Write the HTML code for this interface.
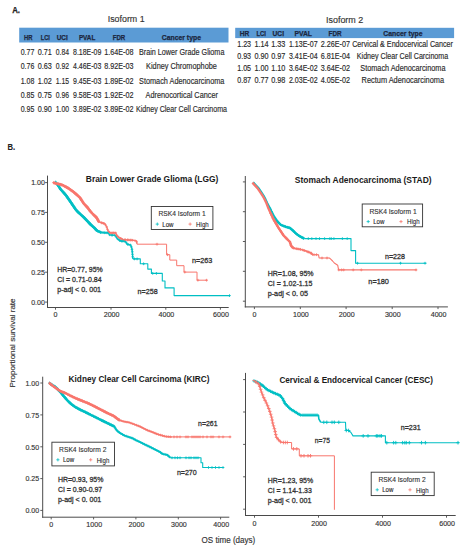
<!DOCTYPE html>
<html><head><meta charset="utf-8"><style>
html,body{margin:0;padding:0;background:#fff;}
svg{display:block;font-family:"Liberation Sans",sans-serif;}
</style></head><body>
<svg width="466" height="550" viewBox="0 0 466 550">
<rect width="466" height="550" fill="#fff"/>
<text x="12.20" y="12.90" font-size="8.4" font-weight="bold" fill="#222" stroke="#222" stroke-width="0.25" textLength="7.80" lengthAdjust="spacingAndGlyphs">A.</text>
<text x="107.70" y="22.20" font-size="9.2" fill="#333" stroke="#333" stroke-width="0.15" textLength="36.90" lengthAdjust="spacingAndGlyphs">Isoform 1</text>
<text x="326.00" y="22.50" font-size="9.2" fill="#333" stroke="#333" stroke-width="0.15" textLength="37.20" lengthAdjust="spacingAndGlyphs">Isoform 2</text>
<rect x="19.2" y="27.7" width="209.30" height="14.80" fill="#5B9BD5"/>
<rect x="235.2" y="27.8" width="218.90" height="10.30" fill="#5B9BD5"/>
<text x="24.00" y="39.60" font-size="7.6" font-weight="bold" fill="#1c2740" stroke="#1c2740" stroke-width="0.25" textLength="8.50" lengthAdjust="spacingAndGlyphs">HR</text>
<text x="40.70" y="39.60" font-size="7.6" font-weight="bold" fill="#1c2740" stroke="#1c2740" stroke-width="0.25" textLength="9.10" lengthAdjust="spacingAndGlyphs">LCI</text>
<text x="56.70" y="39.60" font-size="7.6" font-weight="bold" fill="#1c2740" stroke="#1c2740" stroke-width="0.25" textLength="11.10" lengthAdjust="spacingAndGlyphs">UCI</text>
<text x="78.90" y="39.60" font-size="7.6" font-weight="bold" fill="#1c2740" stroke="#1c2740" stroke-width="0.25" textLength="16.40" lengthAdjust="spacingAndGlyphs">PVAL</text>
<text x="112.70" y="39.60" font-size="7.6" font-weight="bold" fill="#1c2740" stroke="#1c2740" stroke-width="0.25" textLength="12.60" lengthAdjust="spacingAndGlyphs">FDR</text>
<text x="161.70" y="39.60" font-size="7.6" font-weight="bold" fill="#1c2740" stroke="#1c2740" stroke-width="0.25" textLength="39.30" lengthAdjust="spacingAndGlyphs">Cancer type</text>
<text x="20.70" y="54.90" font-size="8.2" fill="#2a2a2a" stroke="#2a2a2a" stroke-width="0.15" textLength="13.60" lengthAdjust="spacingAndGlyphs">0.77</text>
<text x="37.70" y="54.90" font-size="8.2" fill="#2a2a2a" stroke="#2a2a2a" stroke-width="0.15" textLength="14.10" lengthAdjust="spacingAndGlyphs">0.71</text>
<text x="55.70" y="54.90" font-size="8.2" fill="#2a2a2a" stroke="#2a2a2a" stroke-width="0.15" textLength="13.30" lengthAdjust="spacingAndGlyphs">0.84</text>
<text x="73.00" y="54.90" font-size="8.2" fill="#2a2a2a" stroke="#2a2a2a" stroke-width="0.15" textLength="28.30" lengthAdjust="spacingAndGlyphs">8.18E-09</text>
<text x="104.30" y="54.90" font-size="8.2" fill="#2a2a2a" stroke="#2a2a2a" stroke-width="0.15" textLength="29.20" lengthAdjust="spacingAndGlyphs">1.64E-08</text>
<text x="139.00" y="54.90" font-size="8.2" fill="#2a2a2a" stroke="#2a2a2a" stroke-width="0.15" textLength="85.40" lengthAdjust="spacingAndGlyphs">Brain Lower Grade Glioma</text>
<text x="20.70" y="69.30" font-size="8.2" fill="#2a2a2a" stroke="#2a2a2a" stroke-width="0.15" textLength="13.60" lengthAdjust="spacingAndGlyphs">0.76</text>
<text x="37.70" y="69.30" font-size="8.2" fill="#2a2a2a" stroke="#2a2a2a" stroke-width="0.15" textLength="14.10" lengthAdjust="spacingAndGlyphs">0.63</text>
<text x="55.70" y="69.30" font-size="8.2" fill="#2a2a2a" stroke="#2a2a2a" stroke-width="0.15" textLength="13.30" lengthAdjust="spacingAndGlyphs">0.92</text>
<text x="73.00" y="69.30" font-size="8.2" fill="#2a2a2a" stroke="#2a2a2a" stroke-width="0.15" textLength="28.30" lengthAdjust="spacingAndGlyphs">4.46E-03</text>
<text x="104.30" y="69.30" font-size="8.2" fill="#2a2a2a" stroke="#2a2a2a" stroke-width="0.15" textLength="29.20" lengthAdjust="spacingAndGlyphs">8.92E-03</text>
<text x="146.10" y="69.30" font-size="8.2" fill="#2a2a2a" stroke="#2a2a2a" stroke-width="0.15" textLength="70.80" lengthAdjust="spacingAndGlyphs">Kidney Chromophobe</text>
<text x="20.70" y="83.60" font-size="8.2" fill="#2a2a2a" stroke="#2a2a2a" stroke-width="0.15" textLength="13.60" lengthAdjust="spacingAndGlyphs">1.08</text>
<text x="37.70" y="83.60" font-size="8.2" fill="#2a2a2a" stroke="#2a2a2a" stroke-width="0.15" textLength="14.10" lengthAdjust="spacingAndGlyphs">1.02</text>
<text x="55.70" y="83.60" font-size="8.2" fill="#2a2a2a" stroke="#2a2a2a" stroke-width="0.15" textLength="13.30" lengthAdjust="spacingAndGlyphs">1.15</text>
<text x="73.00" y="83.60" font-size="8.2" fill="#2a2a2a" stroke="#2a2a2a" stroke-width="0.15" textLength="28.30" lengthAdjust="spacingAndGlyphs">9.45E-03</text>
<text x="104.30" y="83.60" font-size="8.2" fill="#2a2a2a" stroke="#2a2a2a" stroke-width="0.15" textLength="29.20" lengthAdjust="spacingAndGlyphs">1.89E-02</text>
<text x="139.00" y="83.60" font-size="8.2" fill="#2a2a2a" stroke="#2a2a2a" stroke-width="0.15" textLength="85.40" lengthAdjust="spacingAndGlyphs">Stomach Adenocarcinoma</text>
<text x="20.70" y="98.00" font-size="8.2" fill="#2a2a2a" stroke="#2a2a2a" stroke-width="0.15" textLength="13.60" lengthAdjust="spacingAndGlyphs">0.85</text>
<text x="37.70" y="98.00" font-size="8.2" fill="#2a2a2a" stroke="#2a2a2a" stroke-width="0.15" textLength="14.10" lengthAdjust="spacingAndGlyphs">0.75</text>
<text x="55.70" y="98.00" font-size="8.2" fill="#2a2a2a" stroke="#2a2a2a" stroke-width="0.15" textLength="13.30" lengthAdjust="spacingAndGlyphs">0.96</text>
<text x="73.00" y="98.00" font-size="8.2" fill="#2a2a2a" stroke="#2a2a2a" stroke-width="0.15" textLength="28.30" lengthAdjust="spacingAndGlyphs">9.58E-03</text>
<text x="104.30" y="98.00" font-size="8.2" fill="#2a2a2a" stroke="#2a2a2a" stroke-width="0.15" textLength="29.20" lengthAdjust="spacingAndGlyphs">1.92E-02</text>
<text x="145.50" y="98.00" font-size="8.2" fill="#2a2a2a" stroke="#2a2a2a" stroke-width="0.15" textLength="72.50" lengthAdjust="spacingAndGlyphs">Adrenocortical Cancer</text>
<text x="20.70" y="112.30" font-size="8.2" fill="#2a2a2a" stroke="#2a2a2a" stroke-width="0.15" textLength="13.60" lengthAdjust="spacingAndGlyphs">0.95</text>
<text x="37.70" y="112.30" font-size="8.2" fill="#2a2a2a" stroke="#2a2a2a" stroke-width="0.15" textLength="14.10" lengthAdjust="spacingAndGlyphs">0.90</text>
<text x="55.70" y="112.30" font-size="8.2" fill="#2a2a2a" stroke="#2a2a2a" stroke-width="0.15" textLength="13.30" lengthAdjust="spacingAndGlyphs">1.00</text>
<text x="73.00" y="112.30" font-size="8.2" fill="#2a2a2a" stroke="#2a2a2a" stroke-width="0.15" textLength="28.30" lengthAdjust="spacingAndGlyphs">3.89E-02</text>
<text x="104.30" y="112.30" font-size="8.2" fill="#2a2a2a" stroke="#2a2a2a" stroke-width="0.15" textLength="29.20" lengthAdjust="spacingAndGlyphs">3.89E-02</text>
<text x="136.00" y="112.30" font-size="8.2" fill="#2a2a2a" stroke="#2a2a2a" stroke-width="0.15" textLength="91.00" lengthAdjust="spacingAndGlyphs">Kidney Clear Cell Carcinoma</text>
<text x="239.80" y="36.00" font-size="7.6" font-weight="bold" fill="#1c2740" stroke="#1c2740" stroke-width="0.25" textLength="9.50" lengthAdjust="spacingAndGlyphs">HR</text>
<text x="256.50" y="36.00" font-size="7.6" font-weight="bold" fill="#1c2740" stroke="#1c2740" stroke-width="0.25" textLength="9.50" lengthAdjust="spacingAndGlyphs">LCI</text>
<text x="272.50" y="36.00" font-size="7.6" font-weight="bold" fill="#1c2740" stroke="#1c2740" stroke-width="0.25" textLength="11.50" lengthAdjust="spacingAndGlyphs">UCI</text>
<text x="294.40" y="36.00" font-size="7.6" font-weight="bold" fill="#1c2740" stroke="#1c2740" stroke-width="0.25" textLength="17.60" lengthAdjust="spacingAndGlyphs">PVAL</text>
<text x="328.50" y="36.00" font-size="7.6" font-weight="bold" fill="#1c2740" stroke="#1c2740" stroke-width="0.25" textLength="13.10" lengthAdjust="spacingAndGlyphs">FDR</text>
<text x="383.30" y="36.00" font-size="7.6" font-weight="bold" fill="#1c2740" stroke="#1c2740" stroke-width="0.25" textLength="39.20" lengthAdjust="spacingAndGlyphs">Cancer type</text>
<text x="237.20" y="46.60" font-size="8.2" fill="#2a2a2a" stroke="#2a2a2a" stroke-width="0.15" textLength="13.90" lengthAdjust="spacingAndGlyphs">1.23</text>
<text x="254.50" y="46.60" font-size="8.2" fill="#2a2a2a" stroke="#2a2a2a" stroke-width="0.15" textLength="14.10" lengthAdjust="spacingAndGlyphs">1.14</text>
<text x="271.20" y="46.60" font-size="8.2" fill="#2a2a2a" stroke="#2a2a2a" stroke-width="0.15" textLength="14.20" lengthAdjust="spacingAndGlyphs">1.33</text>
<text x="288.90" y="46.60" font-size="8.2" fill="#2a2a2a" stroke="#2a2a2a" stroke-width="0.15" textLength="28.70" lengthAdjust="spacingAndGlyphs">1.13E-07</text>
<text x="320.70" y="46.60" font-size="8.2" fill="#2a2a2a" stroke="#2a2a2a" stroke-width="0.15" textLength="29.20" lengthAdjust="spacingAndGlyphs">2.26E-07</text>
<text x="352.20" y="46.60" font-size="8.2" fill="#2a2a2a" stroke="#2a2a2a" stroke-width="0.15" textLength="100.80" lengthAdjust="spacingAndGlyphs">Cervical &amp; Endocervical Cancer</text>
<text x="237.20" y="58.70" font-size="8.2" fill="#2a2a2a" stroke="#2a2a2a" stroke-width="0.15" textLength="13.90" lengthAdjust="spacingAndGlyphs">0.93</text>
<text x="254.50" y="58.70" font-size="8.2" fill="#2a2a2a" stroke="#2a2a2a" stroke-width="0.15" textLength="14.10" lengthAdjust="spacingAndGlyphs">0.90</text>
<text x="271.20" y="58.70" font-size="8.2" fill="#2a2a2a" stroke="#2a2a2a" stroke-width="0.15" textLength="14.20" lengthAdjust="spacingAndGlyphs">0.97</text>
<text x="288.90" y="58.70" font-size="8.2" fill="#2a2a2a" stroke="#2a2a2a" stroke-width="0.15" textLength="28.70" lengthAdjust="spacingAndGlyphs">3.41E-04</text>
<text x="320.70" y="58.70" font-size="8.2" fill="#2a2a2a" stroke="#2a2a2a" stroke-width="0.15" textLength="29.20" lengthAdjust="spacingAndGlyphs">6.81E-04</text>
<text x="356.80" y="58.70" font-size="8.2" fill="#2a2a2a" stroke="#2a2a2a" stroke-width="0.15" textLength="91.40" lengthAdjust="spacingAndGlyphs">Kidney Clear Cell Carcinoma</text>
<text x="237.20" y="70.80" font-size="8.2" fill="#2a2a2a" stroke="#2a2a2a" stroke-width="0.15" textLength="13.90" lengthAdjust="spacingAndGlyphs">1.05</text>
<text x="254.50" y="70.80" font-size="8.2" fill="#2a2a2a" stroke="#2a2a2a" stroke-width="0.15" textLength="14.10" lengthAdjust="spacingAndGlyphs">1.00</text>
<text x="271.20" y="70.80" font-size="8.2" fill="#2a2a2a" stroke="#2a2a2a" stroke-width="0.15" textLength="14.20" lengthAdjust="spacingAndGlyphs">1.10</text>
<text x="288.90" y="70.80" font-size="8.2" fill="#2a2a2a" stroke="#2a2a2a" stroke-width="0.15" textLength="28.70" lengthAdjust="spacingAndGlyphs">3.64E-02</text>
<text x="320.70" y="70.80" font-size="8.2" fill="#2a2a2a" stroke="#2a2a2a" stroke-width="0.15" textLength="29.20" lengthAdjust="spacingAndGlyphs">3.64E-02</text>
<text x="360.30" y="70.80" font-size="8.2" fill="#2a2a2a" stroke="#2a2a2a" stroke-width="0.15" textLength="85.20" lengthAdjust="spacingAndGlyphs">Stomach Adenocarcinoma</text>
<text x="237.20" y="82.80" font-size="8.2" fill="#2a2a2a" stroke="#2a2a2a" stroke-width="0.15" textLength="13.90" lengthAdjust="spacingAndGlyphs">0.87</text>
<text x="254.50" y="82.80" font-size="8.2" fill="#2a2a2a" stroke="#2a2a2a" stroke-width="0.15" textLength="14.10" lengthAdjust="spacingAndGlyphs">0.77</text>
<text x="271.20" y="82.80" font-size="8.2" fill="#2a2a2a" stroke="#2a2a2a" stroke-width="0.15" textLength="14.20" lengthAdjust="spacingAndGlyphs">0.98</text>
<text x="288.90" y="82.80" font-size="8.2" fill="#2a2a2a" stroke="#2a2a2a" stroke-width="0.15" textLength="28.70" lengthAdjust="spacingAndGlyphs">2.03E-02</text>
<text x="320.70" y="82.80" font-size="8.2" fill="#2a2a2a" stroke="#2a2a2a" stroke-width="0.15" textLength="29.20" lengthAdjust="spacingAndGlyphs">4.05E-02</text>
<text x="361.60" y="82.80" font-size="8.2" fill="#2a2a2a" stroke="#2a2a2a" stroke-width="0.15" textLength="82.50" lengthAdjust="spacingAndGlyphs">Rectum Adenocarcinoma</text>
<text x="7.50" y="150.10" font-size="8.4" font-weight="bold" fill="#222" stroke="#222" stroke-width="0.1" textLength="7.70" lengthAdjust="spacingAndGlyphs">B.</text>
<line x1="47.5" y1="175.6" x2="47.5" y2="308.0" stroke="#4a4a4a" stroke-width="1.0"/>
<line x1="47.0" y1="307.5" x2="228.7" y2="307.5" stroke="#4a4a4a" stroke-width="1.0"/>
<line x1="45.1" y1="182.6" x2="47.5" y2="182.6" stroke="#4a4a4a" stroke-width="0.9"/>
<text x="31.20" y="185.30" font-size="7.7" fill="#333" stroke="#333" stroke-width="0.15" textLength="13.70" lengthAdjust="spacingAndGlyphs">1.00</text>
<line x1="45.1" y1="212.4" x2="47.5" y2="212.4" stroke="#4a4a4a" stroke-width="0.9"/>
<text x="31.20" y="215.10" font-size="7.7" fill="#333" stroke="#333" stroke-width="0.15" textLength="13.70" lengthAdjust="spacingAndGlyphs">0.75</text>
<line x1="45.1" y1="242.3" x2="47.5" y2="242.3" stroke="#4a4a4a" stroke-width="0.9"/>
<text x="31.20" y="245.00" font-size="7.7" fill="#333" stroke="#333" stroke-width="0.15" textLength="13.70" lengthAdjust="spacingAndGlyphs">0.50</text>
<line x1="45.1" y1="272.2" x2="47.5" y2="272.2" stroke="#4a4a4a" stroke-width="0.9"/>
<text x="31.20" y="274.90" font-size="7.7" fill="#333" stroke="#333" stroke-width="0.15" textLength="13.70" lengthAdjust="spacingAndGlyphs">0.25</text>
<line x1="45.1" y1="302.1" x2="47.5" y2="302.1" stroke="#4a4a4a" stroke-width="0.9"/>
<text x="31.20" y="304.80" font-size="7.7" fill="#333" stroke="#333" stroke-width="0.15" textLength="13.70" lengthAdjust="spacingAndGlyphs">0.00</text>
<line x1="55.5" y1="307.5" x2="55.5" y2="309.7" stroke="#4a4a4a" stroke-width="0.9"/>
<text x="53.52" y="316.70" font-size="7.7" fill="#333" stroke="#333" stroke-width="0.15" textLength="3.95" lengthAdjust="spacingAndGlyphs">0</text>
<line x1="111.0" y1="307.5" x2="111.0" y2="309.7" stroke="#4a4a4a" stroke-width="0.9"/>
<text x="103.70" y="316.70" font-size="7.7" fill="#333" stroke="#333" stroke-width="0.15" textLength="15.80" lengthAdjust="spacingAndGlyphs">2000</text>
<line x1="165.8" y1="307.5" x2="165.8" y2="309.7" stroke="#4a4a4a" stroke-width="0.9"/>
<text x="158.50" y="316.70" font-size="7.7" fill="#333" stroke="#333" stroke-width="0.15" textLength="15.80" lengthAdjust="spacingAndGlyphs">4000</text>
<line x1="220.4" y1="307.5" x2="220.4" y2="309.7" stroke="#4a4a4a" stroke-width="0.9"/>
<text x="213.10" y="316.70" font-size="7.7" fill="#333" stroke="#333" stroke-width="0.15" textLength="15.80" lengthAdjust="spacingAndGlyphs">6000</text>
<text x="85.80" y="181.80" font-size="8.4" font-weight="bold" fill="#1a1a1a" textLength="132.60" lengthAdjust="spacingAndGlyphs">Brain Lower Grade Glioma (LGG)</text>
<polyline points="55.60,182.20 58.50,186.00 60.50,189.20 65.60,194.80 69.80,200.80 73.50,206.30 76.20,210.20 78.80,212.80 84.00,217.50 90.60,224.50 94.50,228.00 96.90,230.60 100.80,232.40" fill="none" stroke="#00BFC4" stroke-width="2.6" stroke-linejoin="round"/>
<path d="M54.10 182.20H57.10M55.60 180.70V183.70" stroke="#00BFC4" stroke-width="0.9"/>
<path d="M55.13 183.55H58.13M56.63 182.05V185.05" stroke="#00BFC4" stroke-width="0.9"/>
<path d="M56.16 184.90H59.16M57.66 183.40V186.40" stroke="#00BFC4" stroke-width="0.9"/>
<path d="M57.17 186.27H60.17M58.67 184.77V187.77" stroke="#00BFC4" stroke-width="0.9"/>
<path d="M58.07 187.71H61.07M59.57 186.21V189.21" stroke="#00BFC4" stroke-width="0.9"/>
<path d="M58.97 189.15H61.97M60.47 187.65V190.65" stroke="#00BFC4" stroke-width="0.9"/>
<path d="M60.11 190.42H63.11M61.61 188.92V191.92" stroke="#00BFC4" stroke-width="0.9"/>
<path d="M61.25 191.67H64.25M62.75 190.17V193.17" stroke="#00BFC4" stroke-width="0.9"/>
<path d="M62.40 192.93H65.40M63.90 191.43V194.43" stroke="#00BFC4" stroke-width="0.9"/>
<path d="M63.54 194.19H66.54M65.04 192.69V195.69" stroke="#00BFC4" stroke-width="0.9"/>
<path d="M64.60 195.51H67.60M66.10 194.01V197.01" stroke="#00BFC4" stroke-width="0.9"/>
<path d="M65.57 196.91H68.57M67.07 195.41V198.41" stroke="#00BFC4" stroke-width="0.9"/>
<path d="M66.55 198.30H69.55M68.05 196.80V199.80" stroke="#00BFC4" stroke-width="0.9"/>
<path d="M67.52 199.69H70.52M69.02 198.19V201.19" stroke="#00BFC4" stroke-width="0.9"/>
<path d="M68.49 201.09H71.49M69.99 199.59V202.59" stroke="#00BFC4" stroke-width="0.9"/>
<path d="M69.44 202.50H72.44M70.94 201.00V204.00" stroke="#00BFC4" stroke-width="0.9"/>
<path d="M70.39 203.91H73.39M71.89 202.41V205.41" stroke="#00BFC4" stroke-width="0.9"/>
<path d="M71.34 205.32H74.34M72.84 203.82V206.82" stroke="#00BFC4" stroke-width="0.9"/>
<path d="M72.30 206.73H75.30M73.80 205.23V208.23" stroke="#00BFC4" stroke-width="0.9"/>
<path d="M73.26 208.12H76.26M74.76 206.62V209.62" stroke="#00BFC4" stroke-width="0.9"/>
<path d="M74.23 209.52H77.23M75.73 208.02V211.02" stroke="#00BFC4" stroke-width="0.9"/>
<path d="M75.32 210.82H78.32M76.82 209.32V212.32" stroke="#00BFC4" stroke-width="0.9"/>
<path d="M76.52 212.02H79.52M78.02 210.52V213.52" stroke="#00BFC4" stroke-width="0.9"/>
<path d="M77.74 213.20H80.74M79.24 211.70V214.70" stroke="#00BFC4" stroke-width="0.9"/>
<path d="M79.01 214.34H82.01M80.51 212.84V215.84" stroke="#00BFC4" stroke-width="0.9"/>
<path d="M80.27 215.48H83.27M81.77 213.98V216.98" stroke="#00BFC4" stroke-width="0.9"/>
<path d="M81.53 216.62H84.53M83.03 215.12V218.12" stroke="#00BFC4" stroke-width="0.9"/>
<path d="M82.77 217.78H85.77M84.27 216.28V219.28" stroke="#00BFC4" stroke-width="0.9"/>
<path d="M83.93 219.02H86.93M85.43 217.52V220.52" stroke="#00BFC4" stroke-width="0.9"/>
<path d="M85.10 220.26H88.10M86.60 218.76V221.76" stroke="#00BFC4" stroke-width="0.9"/>
<path d="M86.27 221.49H89.27M87.77 219.99V222.99" stroke="#00BFC4" stroke-width="0.9"/>
<path d="M87.43 222.73H90.43M88.93 221.23V224.23" stroke="#00BFC4" stroke-width="0.9"/>
<path d="M88.60 223.97H91.60M90.10 222.47V225.47" stroke="#00BFC4" stroke-width="0.9"/>
<path d="M89.82 225.15H92.82M91.32 223.65V226.65" stroke="#00BFC4" stroke-width="0.9"/>
<path d="M91.09 226.28H94.09M92.59 224.78V227.78" stroke="#00BFC4" stroke-width="0.9"/>
<path d="M92.35 227.42H95.35M93.85 225.92V228.92" stroke="#00BFC4" stroke-width="0.9"/>
<path d="M93.56 228.61H96.56M95.06 227.11V230.11" stroke="#00BFC4" stroke-width="0.9"/>
<path d="M94.72 229.86H97.72M96.22 228.36V231.36" stroke="#00BFC4" stroke-width="0.9"/>
<path d="M96.03 230.89H99.03M97.53 229.39V232.39" stroke="#00BFC4" stroke-width="0.9"/>
<path d="M97.57 231.60H100.57M99.07 230.10V233.10" stroke="#00BFC4" stroke-width="0.9"/>
<path d="M99.11 232.31H102.11M100.61 230.81V233.81" stroke="#00BFC4" stroke-width="0.9"/>
<polyline points="100.80,232.40 108.50,232.90 109.50,234.80 115.30,235.30 117.20,238.60 119.10,240.10 121.10,241.10 124.90,241.10 125.90,242.00 126.90,244.00 129.70,244.90 130.70,245.00 131.80,248.20 132.30,251.40 132.80,258.90" fill="none" stroke="#00BFC4" stroke-width="1.3" stroke-linejoin="round"/>
<path d="M99.50 232.40H102.10M100.80 231.10V233.70" stroke="#00BFC4" stroke-width="0.8"/>
<path d="M101.99 232.56H104.59M103.29 231.26V233.86" stroke="#00BFC4" stroke-width="0.8"/>
<path d="M104.49 232.72H107.09M105.79 231.42V234.02" stroke="#00BFC4" stroke-width="0.8"/>
<path d="M106.98 232.89H109.58M108.28 231.59V234.19" stroke="#00BFC4" stroke-width="0.8"/>
<path d="M108.34 234.81H110.94M109.64 233.51V236.11" stroke="#00BFC4" stroke-width="0.8"/>
<path d="M110.83 235.03H113.43M112.13 233.73V236.33" stroke="#00BFC4" stroke-width="0.8"/>
<path d="M113.32 235.24H115.92M114.62 233.94V236.54" stroke="#00BFC4" stroke-width="0.8"/>
<path d="M114.91 236.87H117.51M116.21 235.57V238.17" stroke="#00BFC4" stroke-width="0.8"/>
<path d="M116.30 238.91H118.90M117.60 237.61V240.21" stroke="#00BFC4" stroke-width="0.8"/>
<path d="M118.32 240.36H120.92M119.62 239.06V241.66" stroke="#00BFC4" stroke-width="0.8"/>
<path d="M120.65 241.10H123.25M121.95 239.80V242.40" stroke="#00BFC4" stroke-width="0.8"/>
<path d="M123.15 241.10H125.75M124.45 239.80V242.40" stroke="#00BFC4" stroke-width="0.8"/>
<path d="M124.92 242.63H127.52M126.22 241.33V243.93" stroke="#00BFC4" stroke-width="0.8"/>
<path d="M126.52 244.30H129.12M127.82 243.00V245.60" stroke="#00BFC4" stroke-width="0.8"/>
<path d="M128.93 244.95H131.53M130.23 243.65V246.25" stroke="#00BFC4" stroke-width="0.8"/>
<path d="M130.06 246.91H132.66M131.36 245.61V248.21" stroke="#00BFC4" stroke-width="0.8"/>
<path d="M130.68 249.33H133.28M131.98 248.03V250.63" stroke="#00BFC4" stroke-width="0.8"/>
<path d="M131.03 251.80H133.63M132.33 250.50V253.10" stroke="#00BFC4" stroke-width="0.8"/>
<path d="M131.19 254.29H133.79M132.49 252.99V255.59" stroke="#00BFC4" stroke-width="0.8"/>
<path d="M131.36 256.79H133.96M132.66 255.49V258.09" stroke="#00BFC4" stroke-width="0.8"/>
<polyline points="132.80,258.90 140.30,258.90 140.30,263.80 147.80,263.80 147.80,269.10 151.40,269.10 151.40,273.40 162.30,273.40 162.30,281.00 165.00,281.00 165.00,287.90 174.10,287.90 174.10,295.60 230.00,295.60" fill="none" stroke="#00BFC4" stroke-width="1.1" stroke-linejoin="round"/>
<polyline points="53.60,182.70 56.00,183.40 60.00,184.30 63.00,185.30 68.00,188.00 73.30,191.70 76.50,194.50 79.80,197.50 83.60,203.30 87.50,207.50 90.10,211.00 92.80,214.00 96.50,217.50 98.90,221.80" fill="none" stroke="#F8766D" stroke-width="2.6" stroke-linejoin="round"/>
<path d="M52.10 182.70H55.10M53.60 181.20V184.20" stroke="#F8766D" stroke-width="0.9"/>
<path d="M53.73 183.18H56.73M55.23 181.68V184.68" stroke="#F8766D" stroke-width="0.9"/>
<path d="M55.38 183.60H58.38M56.88 182.10V185.10" stroke="#F8766D" stroke-width="0.9"/>
<path d="M57.04 183.97H60.04M58.54 182.47V185.47" stroke="#F8766D" stroke-width="0.9"/>
<path d="M58.69 184.36H61.69M60.19 182.86V185.86" stroke="#F8766D" stroke-width="0.9"/>
<path d="M60.30 184.90H63.30M61.80 183.40V186.40" stroke="#F8766D" stroke-width="0.9"/>
<path d="M61.89 185.51H64.89M63.39 184.01V187.01" stroke="#F8766D" stroke-width="0.9"/>
<path d="M63.38 186.32H66.38M64.88 184.82V187.82" stroke="#F8766D" stroke-width="0.9"/>
<path d="M64.88 187.12H67.88M66.38 185.62V188.62" stroke="#F8766D" stroke-width="0.9"/>
<path d="M66.37 187.93H69.37M67.87 186.43V189.43" stroke="#F8766D" stroke-width="0.9"/>
<path d="M67.78 188.89H70.78M69.28 187.39V190.39" stroke="#F8766D" stroke-width="0.9"/>
<path d="M69.17 189.86H72.17M70.67 188.36V191.36" stroke="#F8766D" stroke-width="0.9"/>
<path d="M70.56 190.84H73.56M72.06 189.34V192.34" stroke="#F8766D" stroke-width="0.9"/>
<path d="M71.94 191.83H74.94M73.44 190.33V193.33" stroke="#F8766D" stroke-width="0.9"/>
<path d="M73.22 192.95H76.22M74.72 191.45V194.45" stroke="#F8766D" stroke-width="0.9"/>
<path d="M74.50 194.07H77.50M76.00 192.57V195.57" stroke="#F8766D" stroke-width="0.9"/>
<path d="M75.77 195.20H78.77M77.27 193.70V196.70" stroke="#F8766D" stroke-width="0.9"/>
<path d="M77.03 196.34H80.03M78.53 194.84V197.84" stroke="#F8766D" stroke-width="0.9"/>
<path d="M78.28 197.49H81.28M79.78 195.99V198.99" stroke="#F8766D" stroke-width="0.9"/>
<path d="M79.22 198.90H82.22M80.72 197.40V200.40" stroke="#F8766D" stroke-width="0.9"/>
<path d="M80.15 200.33H83.15M81.65 198.83V201.83" stroke="#F8766D" stroke-width="0.9"/>
<path d="M81.08 201.75H84.08M82.58 200.25V203.25" stroke="#F8766D" stroke-width="0.9"/>
<path d="M82.02 203.17H85.02M83.52 201.67V204.67" stroke="#F8766D" stroke-width="0.9"/>
<path d="M83.15 204.43H86.15M84.65 202.93V205.93" stroke="#F8766D" stroke-width="0.9"/>
<path d="M84.31 205.68H87.31M85.81 204.18V207.18" stroke="#F8766D" stroke-width="0.9"/>
<path d="M85.47 206.92H88.47M86.97 205.42V208.42" stroke="#F8766D" stroke-width="0.9"/>
<path d="M86.55 208.23H89.55M88.05 206.73V209.73" stroke="#F8766D" stroke-width="0.9"/>
<path d="M87.56 209.60H90.56M89.06 208.10V211.10" stroke="#F8766D" stroke-width="0.9"/>
<path d="M88.57 210.96H91.57M90.07 209.46V212.46" stroke="#F8766D" stroke-width="0.9"/>
<path d="M89.71 212.23H92.71M91.21 210.73V213.73" stroke="#F8766D" stroke-width="0.9"/>
<path d="M90.84 213.49H93.84M92.34 211.99V214.99" stroke="#F8766D" stroke-width="0.9"/>
<path d="M92.04 214.70H95.04M93.54 213.20V216.20" stroke="#F8766D" stroke-width="0.9"/>
<path d="M93.27 215.87H96.27M94.77 214.37V217.37" stroke="#F8766D" stroke-width="0.9"/>
<path d="M94.51 217.04H97.51M96.01 215.54V218.54" stroke="#F8766D" stroke-width="0.9"/>
<path d="M95.50 218.39H98.50M97.00 216.89V219.89" stroke="#F8766D" stroke-width="0.9"/>
<path d="M96.33 219.88H99.33M97.83 218.38V221.38" stroke="#F8766D" stroke-width="0.9"/>
<path d="M97.16 221.36H100.16M98.66 219.86V222.86" stroke="#F8766D" stroke-width="0.9"/>
<polyline points="98.90,221.80 104.70,223.70 106.60,226.60 108.00,230.90 110.40,232.90 115.80,232.90 116.70,235.30 119.10,237.70 123.00,239.60 133.60,240.30 136.50,240.90 137.00,244.20" fill="none" stroke="#F8766D" stroke-width="1.3" stroke-linejoin="round"/>
<path d="M97.60 221.80H100.20M98.90 220.50V223.10" stroke="#F8766D" stroke-width="0.8"/>
<path d="M99.98 222.58H102.58M101.28 221.28V223.88" stroke="#F8766D" stroke-width="0.8"/>
<path d="M102.35 223.36H104.95M103.65 222.06V224.66" stroke="#F8766D" stroke-width="0.8"/>
<path d="M104.17 224.87H106.77M105.47 223.57V226.17" stroke="#F8766D" stroke-width="0.8"/>
<path d="M105.43 227.01H108.03M106.73 225.71V228.31" stroke="#F8766D" stroke-width="0.8"/>
<path d="M106.21 229.39H108.81M107.51 228.09V230.69" stroke="#F8766D" stroke-width="0.8"/>
<path d="M107.40 231.48H110.00M108.70 230.18V232.78" stroke="#F8766D" stroke-width="0.8"/>
<path d="M109.38 232.90H111.98M110.68 231.60V234.20" stroke="#F8766D" stroke-width="0.8"/>
<path d="M111.88 232.90H114.48M113.18 231.60V234.20" stroke="#F8766D" stroke-width="0.8"/>
<path d="M114.38 232.90H116.98M115.68 231.60V234.20" stroke="#F8766D" stroke-width="0.8"/>
<path d="M115.34 235.13H117.94M116.64 233.83V236.43" stroke="#F8766D" stroke-width="0.8"/>
<path d="M117.04 236.94H119.64M118.34 235.64V238.24" stroke="#F8766D" stroke-width="0.8"/>
<path d="M119.08 238.32H121.68M120.38 237.02V239.62" stroke="#F8766D" stroke-width="0.8"/>
<path d="M121.33 239.42H123.93M122.63 238.12V240.72" stroke="#F8766D" stroke-width="0.8"/>
<path d="M123.78 239.74H126.38M125.08 238.44V241.04" stroke="#F8766D" stroke-width="0.8"/>
<path d="M126.28 239.90H128.88M127.58 238.60V241.20" stroke="#F8766D" stroke-width="0.8"/>
<path d="M128.77 240.07H131.37M130.07 238.77V241.37" stroke="#F8766D" stroke-width="0.8"/>
<path d="M131.27 240.23H133.87M132.57 238.93V241.53" stroke="#F8766D" stroke-width="0.8"/>
<path d="M133.73 240.60H136.33M135.03 239.30V241.90" stroke="#F8766D" stroke-width="0.8"/>
<path d="M135.35 241.89H137.95M136.65 240.59V243.19" stroke="#F8766D" stroke-width="0.8"/>
<polyline points="137.00,244.20 166.60,244.20 166.60,254.70 169.80,254.70 169.80,260.10 176.70,260.10 176.70,265.70 184.00,265.70 184.00,272.10 197.00,272.10 197.00,280.20 207.20,280.20" fill="none" stroke="#F8766D" stroke-width="1.0" stroke-linejoin="round"/>
<path d="M100.60 232.60H103.40M102.00 231.20V234.00" stroke="#00BFC4" stroke-width="0.8"/>
<path d="M103.10 232.70H105.90M104.50 231.30V234.10" stroke="#00BFC4" stroke-width="0.8"/>
<path d="M105.60 232.80H108.40M107.00 231.40V234.20" stroke="#00BFC4" stroke-width="0.8"/>
<path d="M110.60 235.10H113.40M112.00 233.70V236.50" stroke="#00BFC4" stroke-width="0.8"/>
<path d="M118.60 240.60H121.40M120.00 239.20V242.00" stroke="#00BFC4" stroke-width="0.8"/>
<path d="M120.60 241.10H123.40M122.00 239.70V242.50" stroke="#00BFC4" stroke-width="0.8"/>
<path d="M122.60 241.10H125.40M124.00 239.70V242.50" stroke="#00BFC4" stroke-width="0.8"/>
<path d="M126.60 244.50H129.40M128.00 243.10V245.90" stroke="#00BFC4" stroke-width="0.8"/>
<path d="M133.00 258.90H135.80M134.40 257.50V260.30" stroke="#00BFC4" stroke-width="0.8"/>
<path d="M135.70 258.90H138.50M137.10 257.50V260.30" stroke="#00BFC4" stroke-width="0.8"/>
<path d="M142.20 263.80H145.00M143.60 262.40V265.20" stroke="#00BFC4" stroke-width="0.8"/>
<path d="M151.30 273.40H154.10M152.70 272.00V274.80" stroke="#00BFC4" stroke-width="0.8"/>
<path d="M155.00 273.40H157.80M156.40 272.00V274.80" stroke="#00BFC4" stroke-width="0.8"/>
<path d="M228.10 295.60H230.90M229.50 294.20V297.00" stroke="#00BFC4" stroke-width="0.8"/>
<path d="M100.60 223.00H103.40M102.00 221.60V224.40" stroke="#F8766D" stroke-width="0.8"/>
<path d="M102.60 223.50H105.40M104.00 222.10V224.90" stroke="#F8766D" stroke-width="0.8"/>
<path d="M110.60 232.90H113.40M112.00 231.50V234.30" stroke="#F8766D" stroke-width="0.8"/>
<path d="M112.60 232.90H115.40M114.00 231.50V234.30" stroke="#F8766D" stroke-width="0.8"/>
<path d="M119.60 238.60H122.40M121.00 237.20V240.00" stroke="#F8766D" stroke-width="0.8"/>
<path d="M123.60 239.70H126.40M125.00 238.30V241.10" stroke="#F8766D" stroke-width="0.8"/>
<path d="M126.60 239.90H129.40M128.00 238.50V241.30" stroke="#F8766D" stroke-width="0.8"/>
<path d="M129.60 240.10H132.40M131.00 238.70V241.50" stroke="#F8766D" stroke-width="0.8"/>
<path d="M155.60 244.20H158.40M157.00 242.80V245.60" stroke="#F8766D" stroke-width="0.8"/>
<path d="M166.10 254.70H168.90M167.50 253.30V256.10" stroke="#F8766D" stroke-width="0.8"/>
<path d="M183.40 272.10H186.20M184.80 270.70V273.50" stroke="#F8766D" stroke-width="0.8"/>
<path d="M196.50 280.20H199.30M197.90 278.80V281.60" stroke="#F8766D" stroke-width="0.8"/>
<path d="M205.20 280.20H208.00M206.60 278.80V281.60" stroke="#F8766D" stroke-width="0.8"/>
<rect x="151.3" y="206.5" width="61.60" height="23.00" fill="#fff" stroke="#333" stroke-width="0.9"/>
<text x="158.50" y="216.20" font-size="6.9" fill="#333" stroke="#333" stroke-width="0.12" textLength="47.30" lengthAdjust="spacingAndGlyphs">RSK4 Isoform 1</text>
<path d="M155.70 224.10H158.90M157.30 222.50V225.70" stroke="#00BFC4" stroke-width="0.8"/>
<text x="162.30" y="226.70" font-size="6.9" fill="#222" stroke="#222" stroke-width="0.12" textLength="11.20" lengthAdjust="spacingAndGlyphs">Low</text>
<path d="M188.50 224.10H191.70M190.10 222.50V225.70" stroke="#F8766D" stroke-width="0.8"/>
<text x="196.10" y="226.80" font-size="6.9" fill="#222" stroke="#222" stroke-width="0.08" textLength="12.60" lengthAdjust="spacingAndGlyphs">High</text>
<text x="57.20" y="272.40" font-size="8.0" fill="#333" stroke="#333" stroke-width="0.3" textLength="45.60" lengthAdjust="spacingAndGlyphs">HR=0.77, 95%</text>
<text x="57.20" y="282.20" font-size="8.0" fill="#333" stroke="#333" stroke-width="0.3" textLength="44.40" lengthAdjust="spacingAndGlyphs">CI = 0.71-0.84</text>
<text x="57.20" y="292.00" font-size="8.0" fill="#333" stroke="#333" stroke-width="0.3" textLength="43.90" lengthAdjust="spacingAndGlyphs">p-adj &lt; 0. 001</text>
<text x="192.10" y="263.20" font-size="8.0" fill="#333" stroke="#333" stroke-width="0.3" textLength="20.30" lengthAdjust="spacingAndGlyphs">n=263</text>
<text x="137.60" y="294.30" font-size="8.0" fill="#333" stroke="#333" stroke-width="0.3" textLength="20.00" lengthAdjust="spacingAndGlyphs">n=258</text>
<line x1="245.3" y1="176.0" x2="245.3" y2="307.4" stroke="#4a4a4a" stroke-width="1.0"/>
<line x1="244.8" y1="306.9" x2="447.9" y2="306.9" stroke="#4a4a4a" stroke-width="1.0"/>
<line x1="242.9" y1="181.9" x2="245.3" y2="181.9" stroke="#4a4a4a" stroke-width="0.9"/>
<line x1="242.9" y1="211.7" x2="245.3" y2="211.7" stroke="#4a4a4a" stroke-width="0.9"/>
<line x1="242.9" y1="241.5" x2="245.3" y2="241.5" stroke="#4a4a4a" stroke-width="0.9"/>
<line x1="242.9" y1="271.3" x2="245.3" y2="271.3" stroke="#4a4a4a" stroke-width="0.9"/>
<line x1="242.9" y1="301.2" x2="245.3" y2="301.2" stroke="#4a4a4a" stroke-width="0.9"/>
<line x1="254.4" y1="306.9" x2="254.4" y2="309.09999999999997" stroke="#4a4a4a" stroke-width="0.9"/>
<text x="252.43" y="317.20" font-size="7.7" fill="#333" stroke="#333" stroke-width="0.15" textLength="3.95" lengthAdjust="spacingAndGlyphs">0</text>
<line x1="300.3" y1="306.9" x2="300.3" y2="309.09999999999997" stroke="#4a4a4a" stroke-width="0.9"/>
<text x="293.00" y="317.20" font-size="7.7" fill="#333" stroke="#333" stroke-width="0.15" textLength="15.80" lengthAdjust="spacingAndGlyphs">1000</text>
<line x1="346.1" y1="306.9" x2="346.1" y2="309.09999999999997" stroke="#4a4a4a" stroke-width="0.9"/>
<text x="338.80" y="317.20" font-size="7.7" fill="#333" stroke="#333" stroke-width="0.15" textLength="15.80" lengthAdjust="spacingAndGlyphs">2000</text>
<line x1="392.2" y1="306.9" x2="392.2" y2="309.09999999999997" stroke="#4a4a4a" stroke-width="0.9"/>
<text x="384.90" y="317.20" font-size="7.7" fill="#333" stroke="#333" stroke-width="0.15" textLength="15.80" lengthAdjust="spacingAndGlyphs">3000</text>
<line x1="438.0" y1="306.9" x2="438.0" y2="309.09999999999997" stroke="#4a4a4a" stroke-width="0.9"/>
<text x="430.70" y="317.20" font-size="7.7" fill="#333" stroke="#333" stroke-width="0.15" textLength="15.80" lengthAdjust="spacingAndGlyphs">4000</text>
<text x="294.80" y="182.90" font-size="8.4" font-weight="bold" fill="#1a1a1a" textLength="136.80" lengthAdjust="spacingAndGlyphs">Stomach Adenocarcinoma (STAD)</text>
<polyline points="253.00,182.40 256.00,185.60 258.60,188.40 261.00,192.00 263.40,195.60 265.40,199.40 267.20,203.30 269.80,208.30 273.50,216.00 277.20,221.40 281.00,225.00 286.00,226.90 290.00,228.00 293.00,230.60 296.50,234.00 300.00,236.40 304.20,238.60" fill="none" stroke="#00BFC4" stroke-width="2.4" stroke-linejoin="round"/>
<path d="M268.40 208.30H271.20M269.80 206.90V209.70" stroke="#00BFC4" stroke-width="0.9"/>
<path d="M269.18 209.92H271.98M270.58 208.52V211.32" stroke="#00BFC4" stroke-width="0.9"/>
<path d="M269.96 211.54H272.76M271.36 210.14V212.94" stroke="#00BFC4" stroke-width="0.9"/>
<path d="M270.74 213.17H273.54M272.14 211.77V214.57" stroke="#00BFC4" stroke-width="0.9"/>
<path d="M271.52 214.79H274.32M272.92 213.39V216.19" stroke="#00BFC4" stroke-width="0.9"/>
<path d="M272.36 216.38H275.16M273.76 214.98V217.78" stroke="#00BFC4" stroke-width="0.9"/>
<path d="M273.38 217.86H276.18M274.78 216.46V219.26" stroke="#00BFC4" stroke-width="0.9"/>
<path d="M274.39 219.35H277.19M275.79 217.95V220.75" stroke="#00BFC4" stroke-width="0.9"/>
<path d="M275.41 220.83H278.21M276.81 219.43V222.23" stroke="#00BFC4" stroke-width="0.9"/>
<path d="M276.61 222.16H279.41M278.01 220.76V223.56" stroke="#00BFC4" stroke-width="0.9"/>
<path d="M277.91 223.40H280.71M279.31 222.00V224.80" stroke="#00BFC4" stroke-width="0.9"/>
<path d="M279.22 224.64H282.02M280.62 223.24V226.04" stroke="#00BFC4" stroke-width="0.9"/>
<path d="M280.79 225.45H283.59M282.19 224.05V226.85" stroke="#00BFC4" stroke-width="0.9"/>
<path d="M282.48 226.09H285.28M283.88 224.69V227.49" stroke="#00BFC4" stroke-width="0.9"/>
<path d="M284.16 226.73H286.96M285.56 225.33V228.13" stroke="#00BFC4" stroke-width="0.9"/>
<path d="M285.88 227.25H288.68M287.28 225.85V228.65" stroke="#00BFC4" stroke-width="0.9"/>
<path d="M287.62 227.73H290.42M289.02 226.33V229.13" stroke="#00BFC4" stroke-width="0.9"/>
<path d="M289.19 228.51H291.99M290.59 227.11V229.91" stroke="#00BFC4" stroke-width="0.9"/>
<path d="M290.55 229.69H293.35M291.95 228.29V231.09" stroke="#00BFC4" stroke-width="0.9"/>
<path d="M291.89 230.89H294.69M293.29 229.49V232.29" stroke="#00BFC4" stroke-width="0.9"/>
<path d="M293.18 232.14H295.98M294.58 230.74V233.54" stroke="#00BFC4" stroke-width="0.9"/>
<path d="M294.48 233.39H297.28M295.88 231.99V234.79" stroke="#00BFC4" stroke-width="0.9"/>
<path d="M295.87 234.53H298.67M297.27 233.13V235.93" stroke="#00BFC4" stroke-width="0.9"/>
<path d="M297.35 235.54H300.15M298.75 234.14V236.94" stroke="#00BFC4" stroke-width="0.9"/>
<path d="M298.85 236.53H301.65M300.25 235.13V237.93" stroke="#00BFC4" stroke-width="0.9"/>
<path d="M300.45 237.37H303.25M301.85 235.97V238.77" stroke="#00BFC4" stroke-width="0.9"/>
<path d="M302.04 238.20H304.84M303.44 236.80V239.60" stroke="#00BFC4" stroke-width="0.9"/>
<polyline points="304.20,238.60 351.00,238.60 351.00,250.60 355.60,250.60 355.60,263.20 426.30,263.20" fill="none" stroke="#00BFC4" stroke-width="1.1" stroke-linejoin="round"/>
<polyline points="252.40,182.60 255.40,185.90 258.00,188.80 260.40,192.40 262.80,196.00 264.80,199.80 266.60,203.60 268.40,208.30 270.80,213.50 273.30,218.80 278.50,227.80 283.60,235.50 287.50,239.50 290.00,242.00 291.00,245.50 292.30,247.20 294.00,248.30" fill="none" stroke="#F8766D" stroke-width="2.4" stroke-linejoin="round"/>
<path d="M269.40 213.50H272.20M270.80 212.10V214.90" stroke="#F8766D" stroke-width="0.9"/>
<path d="M270.17 215.13H272.97M271.57 213.73V216.53" stroke="#F8766D" stroke-width="0.9"/>
<path d="M270.94 216.76H273.74M272.34 215.36V218.16" stroke="#F8766D" stroke-width="0.9"/>
<path d="M271.70 218.38H274.50M273.10 216.98V219.78" stroke="#F8766D" stroke-width="0.9"/>
<path d="M272.57 219.96H275.37M273.97 218.56V221.36" stroke="#F8766D" stroke-width="0.9"/>
<path d="M273.47 221.52H276.27M274.87 220.12V222.92" stroke="#F8766D" stroke-width="0.9"/>
<path d="M274.37 223.08H277.17M275.77 221.68V224.48" stroke="#F8766D" stroke-width="0.9"/>
<path d="M275.27 224.64H278.07M276.67 223.24V226.04" stroke="#F8766D" stroke-width="0.9"/>
<path d="M276.17 226.19H278.97M277.57 224.79V227.59" stroke="#F8766D" stroke-width="0.9"/>
<path d="M277.07 227.75H279.87M278.47 226.35V229.15" stroke="#F8766D" stroke-width="0.9"/>
<path d="M278.06 229.26H280.86M279.46 227.86V230.66" stroke="#F8766D" stroke-width="0.9"/>
<path d="M279.06 230.76H281.86M280.46 229.36V232.16" stroke="#F8766D" stroke-width="0.9"/>
<path d="M280.05 232.26H282.85M281.45 230.86V233.66" stroke="#F8766D" stroke-width="0.9"/>
<path d="M281.05 233.76H283.85M282.45 232.36V235.16" stroke="#F8766D" stroke-width="0.9"/>
<path d="M282.04 235.26H284.84M283.44 233.86V236.66" stroke="#F8766D" stroke-width="0.9"/>
<path d="M283.25 236.58H286.05M284.65 235.18V237.98" stroke="#F8766D" stroke-width="0.9"/>
<path d="M284.51 237.87H287.31M285.91 236.47V239.27" stroke="#F8766D" stroke-width="0.9"/>
<path d="M285.77 239.16H288.57M287.17 237.76V240.56" stroke="#F8766D" stroke-width="0.9"/>
<path d="M287.04 240.44H289.84M288.44 239.04V241.84" stroke="#F8766D" stroke-width="0.9"/>
<path d="M288.31 241.71H291.11M289.71 240.31V243.11" stroke="#F8766D" stroke-width="0.9"/>
<path d="M288.98 243.33H291.78M290.38 241.93V244.73" stroke="#F8766D" stroke-width="0.9"/>
<path d="M289.48 245.07H292.28M290.88 243.67V246.47" stroke="#F8766D" stroke-width="0.9"/>
<path d="M290.42 246.57H293.22M291.82 245.17V247.97" stroke="#F8766D" stroke-width="0.9"/>
<path d="M291.75 247.75H294.55M293.15 246.35V249.15" stroke="#F8766D" stroke-width="0.9"/>
<polyline points="294.00,248.30 301.70,249.60 305.60,250.90 310.70,252.80 312.70,254.70" fill="none" stroke="#F8766D" stroke-width="1.4" stroke-linejoin="round"/>
<path d="M292.70 248.30H295.30M294.00 247.00V249.60" stroke="#F8766D" stroke-width="0.8"/>
<path d="M294.87 248.67H297.47M296.17 247.37V249.97" stroke="#F8766D" stroke-width="0.8"/>
<path d="M297.04 249.03H299.64M298.34 247.73V250.33" stroke="#F8766D" stroke-width="0.8"/>
<path d="M299.21 249.40H301.81M300.51 248.10V250.70" stroke="#F8766D" stroke-width="0.8"/>
<path d="M301.34 249.91H303.94M302.64 248.61V251.21" stroke="#F8766D" stroke-width="0.8"/>
<path d="M303.43 250.61H306.03M304.73 249.31V251.91" stroke="#F8766D" stroke-width="0.8"/>
<path d="M305.50 251.35H308.10M306.80 250.05V252.65" stroke="#F8766D" stroke-width="0.8"/>
<path d="M307.56 252.11H310.16M308.86 250.81V253.41" stroke="#F8766D" stroke-width="0.8"/>
<path d="M309.57 252.96H312.17M310.87 251.66V254.26" stroke="#F8766D" stroke-width="0.8"/>
<path d="M311.17 254.48H313.77M312.47 253.18V255.78" stroke="#F8766D" stroke-width="0.8"/>
<polyline points="312.70,254.70 318.50,254.70 319.10,258.00 329.40,258.00 330.70,259.20 332.60,261.00 334.30,263.00 337.70,265.20 338.60,269.90 416.70,269.90" fill="none" stroke="#F8766D" stroke-width="1.1" stroke-linejoin="round"/>
<path d="M306.90 238.60H309.70M308.30 237.20V240.00" stroke="#00BFC4" stroke-width="0.8"/>
<path d="M310.40 238.60H313.20M311.80 237.20V240.00" stroke="#00BFC4" stroke-width="0.8"/>
<path d="M314.60 238.60H317.40M316.00 237.20V240.00" stroke="#00BFC4" stroke-width="0.8"/>
<path d="M318.10 238.60H320.90M319.50 237.20V240.00" stroke="#00BFC4" stroke-width="0.8"/>
<path d="M323.20 238.60H326.00M324.60 237.20V240.00" stroke="#00BFC4" stroke-width="0.8"/>
<path d="M328.40 238.60H331.20M329.80 237.20V240.00" stroke="#00BFC4" stroke-width="0.8"/>
<path d="M329.90 238.60H332.70M331.30 237.20V240.00" stroke="#00BFC4" stroke-width="0.8"/>
<path d="M332.50 238.60H335.30M333.90 237.20V240.00" stroke="#00BFC4" stroke-width="0.8"/>
<path d="M341.00 238.60H343.80M342.40 237.20V240.00" stroke="#00BFC4" stroke-width="0.8"/>
<path d="M345.80 238.60H348.60M347.20 237.20V240.00" stroke="#00BFC4" stroke-width="0.8"/>
<path d="M356.10 263.20H358.90M357.50 261.80V264.60" stroke="#00BFC4" stroke-width="0.8"/>
<path d="M399.10 263.20H401.90M400.50 261.80V264.60" stroke="#00BFC4" stroke-width="0.8"/>
<path d="M423.60 263.20H426.40M425.00 261.80V264.60" stroke="#00BFC4" stroke-width="0.8"/>
<path d="M295.60 248.80H298.40M297.00 247.40V250.20" stroke="#F8766D" stroke-width="0.8"/>
<path d="M298.60 249.30H301.40M300.00 247.90V250.70" stroke="#F8766D" stroke-width="0.8"/>
<path d="M302.60 250.50H305.40M304.00 249.10V251.90" stroke="#F8766D" stroke-width="0.8"/>
<path d="M306.60 251.90H309.40M308.00 250.50V253.30" stroke="#F8766D" stroke-width="0.8"/>
<path d="M309.60 253.20H312.40M311.00 251.80V254.60" stroke="#F8766D" stroke-width="0.8"/>
<path d="M312.60 254.70H315.40M314.00 253.30V256.10" stroke="#F8766D" stroke-width="0.8"/>
<path d="M315.10 254.70H317.90M316.50 253.30V256.10" stroke="#F8766D" stroke-width="0.8"/>
<path d="M320.60 258.00H323.40M322.00 256.60V259.40" stroke="#F8766D" stroke-width="0.8"/>
<path d="M325.60 258.00H328.40M327.00 256.60V259.40" stroke="#F8766D" stroke-width="0.8"/>
<path d="M337.40 269.90H340.20M338.80 268.50V271.30" stroke="#F8766D" stroke-width="0.8"/>
<path d="M340.20 269.90H343.00M341.60 268.50V271.30" stroke="#F8766D" stroke-width="0.8"/>
<path d="M342.30 269.90H345.10M343.70 268.50V271.30" stroke="#F8766D" stroke-width="0.8"/>
<path d="M351.80 269.90H354.60M353.20 268.50V271.30" stroke="#F8766D" stroke-width="0.8"/>
<path d="M359.90 269.90H362.70M361.30 268.50V271.30" stroke="#F8766D" stroke-width="0.8"/>
<path d="M414.60 269.90H417.40M416.00 268.50V271.30" stroke="#F8766D" stroke-width="0.8"/>
<rect x="362.2" y="204.0" width="60.40" height="22.80" fill="#fff" stroke="#333" stroke-width="0.9"/>
<text x="369.40" y="213.70" font-size="6.9" fill="#333" stroke="#333" stroke-width="0.12" textLength="47.30" lengthAdjust="spacingAndGlyphs">RSK4 Isoform 1</text>
<path d="M366.60 221.60H369.80M368.20 220.00V223.20" stroke="#00BFC4" stroke-width="0.8"/>
<text x="373.20" y="224.20" font-size="6.9" fill="#222" stroke="#222" stroke-width="0.12" textLength="11.20" lengthAdjust="spacingAndGlyphs">Low</text>
<path d="M399.40 221.60H402.60M401.00 220.00V223.20" stroke="#F8766D" stroke-width="0.8"/>
<text x="407.00" y="224.30" font-size="6.9" fill="#222" stroke="#222" stroke-width="0.08" textLength="12.60" lengthAdjust="spacingAndGlyphs">High</text>
<text x="267.70" y="276.20" font-size="8.0" fill="#333" stroke="#333" stroke-width="0.3" textLength="45.90" lengthAdjust="spacingAndGlyphs">HR=1.08, 95%</text>
<text x="267.70" y="286.00" font-size="8.0" fill="#333" stroke="#333" stroke-width="0.3" textLength="44.70" lengthAdjust="spacingAndGlyphs">CI = 1.02-1.15</text>
<text x="267.70" y="295.80" font-size="8.0" fill="#333" stroke="#333" stroke-width="0.3" textLength="40.40" lengthAdjust="spacingAndGlyphs">p-adj &lt; 0. 05</text>
<text x="385.00" y="258.70" font-size="8.0" fill="#333" stroke="#333" stroke-width="0.3" textLength="19.90" lengthAdjust="spacingAndGlyphs">n=228</text>
<text x="368.30" y="284.00" font-size="8.0" fill="#333" stroke="#333" stroke-width="0.3" textLength="20.60" lengthAdjust="spacingAndGlyphs">n=180</text>
<text x="0" y="0" font-size="8" fill="#333" stroke="#333" stroke-width="0.15" textLength="89.2" lengthAdjust="spacingAndGlyphs" transform="translate(14.7 387.6) rotate(-90)">Proportional survival rate</text>
<line x1="42.7" y1="376.7" x2="42.7" y2="517.7" stroke="#4a4a4a" stroke-width="1.0"/>
<line x1="42.2" y1="517.2" x2="229.3" y2="517.2" stroke="#4a4a4a" stroke-width="1.0"/>
<line x1="40.300000000000004" y1="383.0" x2="42.7" y2="383.0" stroke="#4a4a4a" stroke-width="0.9"/>
<text x="25.40" y="385.70" font-size="7.7" fill="#333" stroke="#333" stroke-width="0.15" textLength="13.70" lengthAdjust="spacingAndGlyphs">1.00</text>
<line x1="40.300000000000004" y1="414.9" x2="42.7" y2="414.9" stroke="#4a4a4a" stroke-width="0.9"/>
<text x="25.40" y="417.60" font-size="7.7" fill="#333" stroke="#333" stroke-width="0.15" textLength="13.70" lengthAdjust="spacingAndGlyphs">0.75</text>
<line x1="40.300000000000004" y1="446.8" x2="42.7" y2="446.8" stroke="#4a4a4a" stroke-width="0.9"/>
<text x="25.40" y="449.50" font-size="7.7" fill="#333" stroke="#333" stroke-width="0.15" textLength="13.70" lengthAdjust="spacingAndGlyphs">0.50</text>
<line x1="40.300000000000004" y1="478.6" x2="42.7" y2="478.6" stroke="#4a4a4a" stroke-width="0.9"/>
<text x="25.40" y="481.30" font-size="7.7" fill="#333" stroke="#333" stroke-width="0.15" textLength="13.70" lengthAdjust="spacingAndGlyphs">0.25</text>
<line x1="40.300000000000004" y1="510.4" x2="42.7" y2="510.4" stroke="#4a4a4a" stroke-width="0.9"/>
<text x="25.40" y="513.10" font-size="7.7" fill="#333" stroke="#333" stroke-width="0.15" textLength="13.70" lengthAdjust="spacingAndGlyphs">0.00</text>
<line x1="51.2" y1="517.2" x2="51.2" y2="519.4000000000001" stroke="#4a4a4a" stroke-width="0.9"/>
<text x="49.23" y="526.50" font-size="7.7" fill="#333" stroke="#333" stroke-width="0.15" textLength="3.95" lengthAdjust="spacingAndGlyphs">0</text>
<line x1="93.6" y1="517.2" x2="93.6" y2="519.4000000000001" stroke="#4a4a4a" stroke-width="0.9"/>
<text x="86.30" y="526.50" font-size="7.7" fill="#333" stroke="#333" stroke-width="0.15" textLength="15.80" lengthAdjust="spacingAndGlyphs">1000</text>
<line x1="135.9" y1="517.2" x2="135.9" y2="519.4000000000001" stroke="#4a4a4a" stroke-width="0.9"/>
<text x="128.60" y="526.50" font-size="7.7" fill="#333" stroke="#333" stroke-width="0.15" textLength="15.80" lengthAdjust="spacingAndGlyphs">2000</text>
<line x1="178.3" y1="517.2" x2="178.3" y2="519.4000000000001" stroke="#4a4a4a" stroke-width="0.9"/>
<text x="171.00" y="526.50" font-size="7.7" fill="#333" stroke="#333" stroke-width="0.15" textLength="15.80" lengthAdjust="spacingAndGlyphs">3000</text>
<line x1="220.6" y1="517.2" x2="220.6" y2="519.4000000000001" stroke="#4a4a4a" stroke-width="0.9"/>
<text x="213.30" y="526.50" font-size="7.7" fill="#333" stroke="#333" stroke-width="0.15" textLength="15.80" lengthAdjust="spacingAndGlyphs">4000</text>
<text x="68.60" y="382.00" font-size="8.4" font-weight="bold" fill="#1a1a1a" textLength="140.80" lengthAdjust="spacingAndGlyphs">Kidney Clear Cell Carcinoma (KIRC)</text>
<polyline points="49.50,383.20 52.50,385.30 54.90,386.60 57.50,389.00 60.00,391.70 64.00,396.50 67.80,400.80 71.50,404.30 75.50,407.20 80.00,409.60 85.80,412.30 91.00,415.00 96.10,417.50 101.00,420.00 106.40,422.60 110.00,424.40 114.10,426.30" fill="none" stroke="#00BFC4" stroke-width="2.5" stroke-linejoin="round"/>
<path d="M48.00 383.20H51.00M49.50 381.70V384.70" stroke="#00BFC4" stroke-width="0.9"/>
<path d="M49.47 384.23H52.47M50.97 382.73V385.73" stroke="#00BFC4" stroke-width="0.9"/>
<path d="M50.95 385.26H53.95M52.45 383.76V386.76" stroke="#00BFC4" stroke-width="0.9"/>
<path d="M52.53 386.13H55.53M54.03 384.63V387.63" stroke="#00BFC4" stroke-width="0.9"/>
<path d="M53.99 387.15H56.99M55.49 385.65V388.65" stroke="#00BFC4" stroke-width="0.9"/>
<path d="M55.32 388.37H58.32M56.82 386.87V389.87" stroke="#00BFC4" stroke-width="0.9"/>
<path d="M56.59 389.64H59.59M58.09 388.14V391.14" stroke="#00BFC4" stroke-width="0.9"/>
<path d="M57.81 390.96H60.81M59.31 389.46V392.46" stroke="#00BFC4" stroke-width="0.9"/>
<path d="M59.01 392.31H62.01M60.51 390.81V393.81" stroke="#00BFC4" stroke-width="0.9"/>
<path d="M60.16 393.69H63.16M61.66 392.19V395.19" stroke="#00BFC4" stroke-width="0.9"/>
<path d="M61.31 395.07H64.31M62.81 393.57V396.57" stroke="#00BFC4" stroke-width="0.9"/>
<path d="M62.46 396.46H65.46M63.96 394.96V397.96" stroke="#00BFC4" stroke-width="0.9"/>
<path d="M63.65 397.81H66.65M65.15 396.31V399.31" stroke="#00BFC4" stroke-width="0.9"/>
<path d="M64.85 399.15H67.85M66.35 397.65V400.65" stroke="#00BFC4" stroke-width="0.9"/>
<path d="M66.04 400.50H69.04M67.54 399.00V402.00" stroke="#00BFC4" stroke-width="0.9"/>
<path d="M67.32 401.76H70.32M68.82 400.26V403.26" stroke="#00BFC4" stroke-width="0.9"/>
<path d="M68.63 403.00H71.63M70.13 401.50V404.50" stroke="#00BFC4" stroke-width="0.9"/>
<path d="M69.94 404.24H72.94M71.44 402.74V405.74" stroke="#00BFC4" stroke-width="0.9"/>
<path d="M71.39 405.30H74.39M72.89 403.80V406.80" stroke="#00BFC4" stroke-width="0.9"/>
<path d="M72.84 406.36H75.84M74.34 404.86V407.86" stroke="#00BFC4" stroke-width="0.9"/>
<path d="M74.33 407.37H77.33M75.83 405.87V408.87" stroke="#00BFC4" stroke-width="0.9"/>
<path d="M75.91 408.22H78.91M77.41 406.72V409.72" stroke="#00BFC4" stroke-width="0.9"/>
<path d="M77.50 409.07H80.50M79.00 407.57V410.57" stroke="#00BFC4" stroke-width="0.9"/>
<path d="M79.11 409.88H82.11M80.61 408.38V411.38" stroke="#00BFC4" stroke-width="0.9"/>
<path d="M80.74 410.64H83.74M82.24 409.14V412.14" stroke="#00BFC4" stroke-width="0.9"/>
<path d="M82.37 411.40H85.37M83.87 409.90V412.90" stroke="#00BFC4" stroke-width="0.9"/>
<path d="M84.00 412.16H87.00M85.50 410.66V413.66" stroke="#00BFC4" stroke-width="0.9"/>
<path d="M85.61 412.98H88.61M87.11 411.48V414.48" stroke="#00BFC4" stroke-width="0.9"/>
<path d="M87.20 413.81H90.20M88.70 412.31V415.31" stroke="#00BFC4" stroke-width="0.9"/>
<path d="M88.80 414.64H91.80M90.30 413.14V416.14" stroke="#00BFC4" stroke-width="0.9"/>
<path d="M90.41 415.45H93.41M91.91 413.95V416.95" stroke="#00BFC4" stroke-width="0.9"/>
<path d="M92.03 416.24H95.03M93.53 414.74V417.74" stroke="#00BFC4" stroke-width="0.9"/>
<path d="M93.64 417.03H96.64M95.14 415.53V418.53" stroke="#00BFC4" stroke-width="0.9"/>
<path d="M95.25 417.83H98.25M96.75 416.33V419.33" stroke="#00BFC4" stroke-width="0.9"/>
<path d="M96.86 418.65H99.86M98.36 417.15V420.15" stroke="#00BFC4" stroke-width="0.9"/>
<path d="M98.46 419.47H101.46M99.96 417.97V420.97" stroke="#00BFC4" stroke-width="0.9"/>
<path d="M100.07 420.27H103.07M101.57 418.77V421.77" stroke="#00BFC4" stroke-width="0.9"/>
<path d="M101.69 421.06H104.69M103.19 419.56V422.56" stroke="#00BFC4" stroke-width="0.9"/>
<path d="M103.31 421.84H106.31M104.81 420.34V423.34" stroke="#00BFC4" stroke-width="0.9"/>
<path d="M104.94 422.62H107.94M106.44 421.12V424.12" stroke="#00BFC4" stroke-width="0.9"/>
<path d="M106.55 423.42H109.55M108.05 421.92V424.92" stroke="#00BFC4" stroke-width="0.9"/>
<path d="M108.16 424.23H111.16M109.66 422.73V425.73" stroke="#00BFC4" stroke-width="0.9"/>
<path d="M109.78 424.99H112.78M111.28 423.49V426.49" stroke="#00BFC4" stroke-width="0.9"/>
<path d="M111.42 425.75H114.42M112.92 424.25V427.25" stroke="#00BFC4" stroke-width="0.9"/>
<polyline points="114.10,426.30 116.70,430.40 120.00,433.00 124.40,435.50 128.00,436.80 132.10,438.10 136.00,440.20 139.90,442.00 145.00,444.60 150.20,447.10 156.00,450.00 160.00,452.00 162.60,454.00 167.20,454.80 170.50,457.80" fill="none" stroke="#00BFC4" stroke-width="1.7" stroke-linejoin="round"/>
<path d="M112.70 426.30H115.50M114.10 424.90V427.70" stroke="#00BFC4" stroke-width="0.8"/>
<path d="M113.77 427.99H116.57M115.17 426.59V429.39" stroke="#00BFC4" stroke-width="0.8"/>
<path d="M114.84 429.68H117.64M116.24 428.28V431.08" stroke="#00BFC4" stroke-width="0.8"/>
<path d="M116.20 431.11H119.00M117.60 429.71V432.51" stroke="#00BFC4" stroke-width="0.8"/>
<path d="M117.77 432.35H120.57M119.17 430.95V433.75" stroke="#00BFC4" stroke-width="0.8"/>
<path d="M119.42 433.47H122.22M120.82 432.07V434.87" stroke="#00BFC4" stroke-width="0.8"/>
<path d="M121.16 434.45H123.96M122.56 433.05V435.85" stroke="#00BFC4" stroke-width="0.8"/>
<path d="M122.90 435.44H125.70M124.30 434.04V436.84" stroke="#00BFC4" stroke-width="0.8"/>
<path d="M124.77 436.14H127.57M126.17 434.74V437.54" stroke="#00BFC4" stroke-width="0.8"/>
<path d="M126.65 436.82H129.45M128.05 435.42V438.22" stroke="#00BFC4" stroke-width="0.8"/>
<path d="M128.56 437.42H131.36M129.96 436.02V438.82" stroke="#00BFC4" stroke-width="0.8"/>
<path d="M130.47 438.03H133.27M131.87 436.63V439.43" stroke="#00BFC4" stroke-width="0.8"/>
<path d="M132.24 438.93H135.04M133.64 437.53V440.33" stroke="#00BFC4" stroke-width="0.8"/>
<path d="M134.01 439.88H136.81M135.41 438.48V441.28" stroke="#00BFC4" stroke-width="0.8"/>
<path d="M135.80 440.76H138.60M137.20 439.36V442.16" stroke="#00BFC4" stroke-width="0.8"/>
<path d="M137.62 441.59H140.42M139.02 440.19V442.99" stroke="#00BFC4" stroke-width="0.8"/>
<path d="M139.42 442.47H142.22M140.82 441.07V443.87" stroke="#00BFC4" stroke-width="0.8"/>
<path d="M141.20 443.38H144.00M142.60 441.98V444.78" stroke="#00BFC4" stroke-width="0.8"/>
<path d="M142.98 444.28H145.78M144.38 442.88V445.68" stroke="#00BFC4" stroke-width="0.8"/>
<path d="M144.78 445.17H147.58M146.18 443.77V446.57" stroke="#00BFC4" stroke-width="0.8"/>
<path d="M146.58 446.03H149.38M147.98 444.63V447.43" stroke="#00BFC4" stroke-width="0.8"/>
<path d="M148.38 446.90H151.18M149.78 445.50V448.30" stroke="#00BFC4" stroke-width="0.8"/>
<path d="M150.17 447.79H152.97M151.57 446.39V449.19" stroke="#00BFC4" stroke-width="0.8"/>
<path d="M151.96 448.68H154.76M153.36 447.28V450.08" stroke="#00BFC4" stroke-width="0.8"/>
<path d="M153.75 449.58H156.55M155.15 448.18V450.98" stroke="#00BFC4" stroke-width="0.8"/>
<path d="M155.54 450.47H158.34M156.94 449.07V451.87" stroke="#00BFC4" stroke-width="0.8"/>
<path d="M157.33 451.36H160.13M158.73 449.96V452.76" stroke="#00BFC4" stroke-width="0.8"/>
<path d="M159.06 452.35H161.86M160.46 450.95V453.75" stroke="#00BFC4" stroke-width="0.8"/>
<path d="M160.64 453.57H163.44M162.04 452.17V454.97" stroke="#00BFC4" stroke-width="0.8"/>
<path d="M162.48 454.22H165.28M163.88 452.82V455.62" stroke="#00BFC4" stroke-width="0.8"/>
<path d="M164.45 454.57H167.25M165.85 453.17V455.97" stroke="#00BFC4" stroke-width="0.8"/>
<path d="M166.27 455.22H169.07M167.67 453.82V456.62" stroke="#00BFC4" stroke-width="0.8"/>
<path d="M167.75 456.57H170.55M169.15 455.17V457.97" stroke="#00BFC4" stroke-width="0.8"/>
<polyline points="170.50,457.80 201.00,457.80 201.00,462.70 202.70,462.70 202.70,467.50 223.60,467.50" fill="none" stroke="#00BFC4" stroke-width="1.1" stroke-linejoin="round"/>
<polyline points="49.50,383.20 53.00,386.00 57.50,389.20 61.00,391.50 65.20,393.00 70.00,395.50 75.50,398.20 80.00,400.00 84.00,401.60 88.40,403.30 95.00,406.60 101.20,409.80 108.00,413.30 114.10,416.20 117.00,418.50 119.30,420.10" fill="none" stroke="#F8766D" stroke-width="2.5" stroke-linejoin="round"/>
<path d="M48.00 383.20H51.00M49.50 381.70V384.70" stroke="#F8766D" stroke-width="0.9"/>
<path d="M49.41 384.32H52.41M50.91 382.82V385.82" stroke="#F8766D" stroke-width="0.9"/>
<path d="M50.81 385.45H53.81M52.31 383.95V386.95" stroke="#F8766D" stroke-width="0.9"/>
<path d="M52.25 386.53H55.25M53.75 385.03V388.03" stroke="#F8766D" stroke-width="0.9"/>
<path d="M53.71 387.58H56.71M55.21 386.08V389.08" stroke="#F8766D" stroke-width="0.9"/>
<path d="M55.18 388.62H58.18M56.68 387.12V390.12" stroke="#F8766D" stroke-width="0.9"/>
<path d="M56.67 389.64H59.67M58.17 388.14V391.14" stroke="#F8766D" stroke-width="0.9"/>
<path d="M58.17 390.63H61.17M59.67 389.13V392.13" stroke="#F8766D" stroke-width="0.9"/>
<path d="M59.70 391.57H62.70M61.20 390.07V393.07" stroke="#F8766D" stroke-width="0.9"/>
<path d="M61.39 392.18H64.39M62.89 390.68V393.68" stroke="#F8766D" stroke-width="0.9"/>
<path d="M63.09 392.78H66.09M64.59 391.28V394.28" stroke="#F8766D" stroke-width="0.9"/>
<path d="M64.72 393.53H67.72M66.22 392.03V395.03" stroke="#F8766D" stroke-width="0.9"/>
<path d="M66.31 394.36H69.31M67.81 392.86V395.86" stroke="#F8766D" stroke-width="0.9"/>
<path d="M67.91 395.19H70.91M69.41 393.69V396.69" stroke="#F8766D" stroke-width="0.9"/>
<path d="M69.52 396.00H72.52M71.02 394.50V397.50" stroke="#F8766D" stroke-width="0.9"/>
<path d="M71.14 396.79H74.14M72.64 395.29V398.29" stroke="#F8766D" stroke-width="0.9"/>
<path d="M72.75 397.59H75.75M74.25 396.09V399.09" stroke="#F8766D" stroke-width="0.9"/>
<path d="M74.38 398.35H77.38M75.88 396.85V399.85" stroke="#F8766D" stroke-width="0.9"/>
<path d="M76.05 399.02H79.05M77.55 397.52V400.52" stroke="#F8766D" stroke-width="0.9"/>
<path d="M77.72 399.69H80.72M79.22 398.19V401.19" stroke="#F8766D" stroke-width="0.9"/>
<path d="M79.39 400.36H82.39M80.89 398.86V401.86" stroke="#F8766D" stroke-width="0.9"/>
<path d="M81.06 401.03H84.06M82.56 399.53V402.53" stroke="#F8766D" stroke-width="0.9"/>
<path d="M82.74 401.69H85.74M84.24 400.19V403.19" stroke="#F8766D" stroke-width="0.9"/>
<path d="M84.42 402.34H87.42M85.92 400.84V403.84" stroke="#F8766D" stroke-width="0.9"/>
<path d="M86.10 402.99H89.10M87.60 401.49V404.49" stroke="#F8766D" stroke-width="0.9"/>
<path d="M87.74 403.72H90.74M89.24 402.22V405.22" stroke="#F8766D" stroke-width="0.9"/>
<path d="M89.35 404.52H92.35M90.85 403.02V406.02" stroke="#F8766D" stroke-width="0.9"/>
<path d="M90.96 405.33H93.96M92.46 403.83V406.83" stroke="#F8766D" stroke-width="0.9"/>
<path d="M92.57 406.13H95.57M94.07 404.63V407.63" stroke="#F8766D" stroke-width="0.9"/>
<path d="M94.17 406.95H97.17M95.67 405.45V408.45" stroke="#F8766D" stroke-width="0.9"/>
<path d="M95.77 407.77H98.77M97.27 406.27V409.27" stroke="#F8766D" stroke-width="0.9"/>
<path d="M97.37 408.60H100.37M98.87 407.10V410.10" stroke="#F8766D" stroke-width="0.9"/>
<path d="M98.97 409.42H101.97M100.47 407.92V410.92" stroke="#F8766D" stroke-width="0.9"/>
<path d="M100.57 410.25H103.57M102.07 408.75V411.75" stroke="#F8766D" stroke-width="0.9"/>
<path d="M102.17 411.07H105.17M103.67 409.57V412.57" stroke="#F8766D" stroke-width="0.9"/>
<path d="M103.77 411.90H106.77M105.27 410.40V413.40" stroke="#F8766D" stroke-width="0.9"/>
<path d="M105.37 412.72H108.37M106.87 411.22V414.22" stroke="#F8766D" stroke-width="0.9"/>
<path d="M106.98 413.53H109.98M108.48 412.03V415.03" stroke="#F8766D" stroke-width="0.9"/>
<path d="M108.61 414.30H111.61M110.11 412.80V415.80" stroke="#F8766D" stroke-width="0.9"/>
<path d="M110.23 415.07H113.23M111.73 413.57V416.57" stroke="#F8766D" stroke-width="0.9"/>
<path d="M111.86 415.85H114.86M113.36 414.35V417.35" stroke="#F8766D" stroke-width="0.9"/>
<path d="M113.37 416.81H116.37M114.87 415.31V418.31" stroke="#F8766D" stroke-width="0.9"/>
<path d="M114.78 417.93H117.78M116.28 416.43V419.43" stroke="#F8766D" stroke-width="0.9"/>
<path d="M116.22 419.00H119.22M117.72 417.50V420.50" stroke="#F8766D" stroke-width="0.9"/>
<path d="M117.70 420.03H120.70M119.20 418.53V421.53" stroke="#F8766D" stroke-width="0.9"/>
<polyline points="119.30,420.10 124.00,421.60 129.60,422.60 135.00,424.60 139.90,426.50 145.00,429.10 148.00,430.50 152.70,432.20 157.50,434.20 162.00,435.50 166.00,436.60 172.00,436.90" fill="none" stroke="#F8766D" stroke-width="1.5" stroke-linejoin="round"/>
<path d="M118.00 420.10H120.60M119.30 418.80V421.40" stroke="#F8766D" stroke-width="0.8"/>
<path d="M119.91 420.71H122.51M121.21 419.41V422.01" stroke="#F8766D" stroke-width="0.8"/>
<path d="M121.81 421.32H124.41M123.11 420.02V422.62" stroke="#F8766D" stroke-width="0.8"/>
<path d="M123.75 421.79H126.35M125.05 420.49V423.09" stroke="#F8766D" stroke-width="0.8"/>
<path d="M125.72 422.14H128.32M127.02 420.84V423.44" stroke="#F8766D" stroke-width="0.8"/>
<path d="M127.69 422.49H130.29M128.99 421.19V423.79" stroke="#F8766D" stroke-width="0.8"/>
<path d="M129.59 423.08H132.19M130.89 421.78V424.38" stroke="#F8766D" stroke-width="0.8"/>
<path d="M131.47 423.77H134.07M132.77 422.47V425.07" stroke="#F8766D" stroke-width="0.8"/>
<path d="M133.34 424.47H135.94M134.64 423.17V425.77" stroke="#F8766D" stroke-width="0.8"/>
<path d="M135.21 425.19H137.81M136.51 423.89V426.49" stroke="#F8766D" stroke-width="0.8"/>
<path d="M137.07 425.91H139.67M138.37 424.61V427.21" stroke="#F8766D" stroke-width="0.8"/>
<path d="M138.92 426.67H141.52M140.22 425.37V427.97" stroke="#F8766D" stroke-width="0.8"/>
<path d="M140.71 427.57H143.31M142.01 426.27V428.87" stroke="#F8766D" stroke-width="0.8"/>
<path d="M142.49 428.48H145.09M143.79 427.18V429.78" stroke="#F8766D" stroke-width="0.8"/>
<path d="M144.28 429.37H146.88M145.58 428.07V430.67" stroke="#F8766D" stroke-width="0.8"/>
<path d="M146.09 430.22H148.69M147.39 428.92V431.52" stroke="#F8766D" stroke-width="0.8"/>
<path d="M147.95 430.95H150.55M149.25 429.65V432.25" stroke="#F8766D" stroke-width="0.8"/>
<path d="M149.83 431.63H152.43M151.13 430.33V432.93" stroke="#F8766D" stroke-width="0.8"/>
<path d="M151.71 432.33H154.31M153.01 431.03V433.63" stroke="#F8766D" stroke-width="0.8"/>
<path d="M153.55 433.10H156.15M154.85 431.80V434.40" stroke="#F8766D" stroke-width="0.8"/>
<path d="M155.40 433.87H158.00M156.70 432.57V435.17" stroke="#F8766D" stroke-width="0.8"/>
<path d="M157.29 434.51H159.89M158.59 433.21V435.81" stroke="#F8766D" stroke-width="0.8"/>
<path d="M159.21 435.07H161.81M160.51 433.77V436.37" stroke="#F8766D" stroke-width="0.8"/>
<path d="M161.13 435.62H163.73M162.43 434.32V436.92" stroke="#F8766D" stroke-width="0.8"/>
<path d="M163.06 436.15H165.66M164.36 434.85V437.45" stroke="#F8766D" stroke-width="0.8"/>
<path d="M165.00 436.61H167.60M166.30 435.31V437.91" stroke="#F8766D" stroke-width="0.8"/>
<path d="M167.00 436.71H169.60M168.30 435.41V438.01" stroke="#F8766D" stroke-width="0.8"/>
<path d="M168.99 436.81H171.59M170.29 435.51V438.11" stroke="#F8766D" stroke-width="0.8"/>
<polyline points="172.00,436.90 230.80,436.90" fill="none" stroke="#F8766D" stroke-width="1.0" stroke-linejoin="round"/>
<path d="M172.60 436.90H175.40M174.00 435.50V438.30" stroke="#F8766D" stroke-width="0.8"/>
<path d="M175.60 436.90H178.40M177.00 435.50V438.30" stroke="#F8766D" stroke-width="0.8"/>
<path d="M178.60 436.90H181.40M180.00 435.50V438.30" stroke="#F8766D" stroke-width="0.8"/>
<path d="M184.60 436.90H187.40M186.00 435.50V438.30" stroke="#F8766D" stroke-width="0.8"/>
<path d="M186.60 436.90H189.40M188.00 435.50V438.30" stroke="#F8766D" stroke-width="0.8"/>
<path d="M190.60 436.90H193.40M192.00 435.50V438.30" stroke="#F8766D" stroke-width="0.8"/>
<path d="M192.60 436.90H195.40M194.00 435.50V438.30" stroke="#F8766D" stroke-width="0.8"/>
<path d="M194.60 436.90H197.40M196.00 435.50V438.30" stroke="#F8766D" stroke-width="0.8"/>
<path d="M196.60 436.90H199.40M198.00 435.50V438.30" stroke="#F8766D" stroke-width="0.8"/>
<path d="M198.60 436.90H201.40M200.00 435.50V438.30" stroke="#F8766D" stroke-width="0.8"/>
<path d="M201.60 436.90H204.40M203.00 435.50V438.30" stroke="#F8766D" stroke-width="0.8"/>
<path d="M205.60 436.90H208.40M207.00 435.50V438.30" stroke="#F8766D" stroke-width="0.8"/>
<path d="M209.60 436.90H212.40M211.00 435.50V438.30" stroke="#F8766D" stroke-width="0.8"/>
<path d="M211.60 436.90H214.40M213.00 435.50V438.30" stroke="#F8766D" stroke-width="0.8"/>
<path d="M217.60 436.90H220.40M219.00 435.50V438.30" stroke="#F8766D" stroke-width="0.8"/>
<path d="M221.60 436.90H224.40M223.00 435.50V438.30" stroke="#F8766D" stroke-width="0.8"/>
<path d="M228.60 436.90H231.40M230.00 435.50V438.30" stroke="#F8766D" stroke-width="0.8"/>
<path d="M170.60 457.80H173.40M172.00 456.40V459.20" stroke="#00BFC4" stroke-width="0.8"/>
<path d="M173.60 457.80H176.40M175.00 456.40V459.20" stroke="#00BFC4" stroke-width="0.8"/>
<path d="M176.10 457.80H178.90M177.50 456.40V459.20" stroke="#00BFC4" stroke-width="0.8"/>
<path d="M178.60 457.80H181.40M180.00 456.40V459.20" stroke="#00BFC4" stroke-width="0.8"/>
<path d="M184.60 457.80H187.40M186.00 456.40V459.20" stroke="#00BFC4" stroke-width="0.8"/>
<path d="M187.60 457.80H190.40M189.00 456.40V459.20" stroke="#00BFC4" stroke-width="0.8"/>
<path d="M189.60 457.80H192.40M191.00 456.40V459.20" stroke="#00BFC4" stroke-width="0.8"/>
<path d="M192.60 457.80H195.40M194.00 456.40V459.20" stroke="#00BFC4" stroke-width="0.8"/>
<path d="M194.60 457.80H197.40M196.00 456.40V459.20" stroke="#00BFC4" stroke-width="0.8"/>
<path d="M196.60 457.80H199.40M198.00 456.40V459.20" stroke="#00BFC4" stroke-width="0.8"/>
<path d="M207.10 467.50H209.90M208.50 466.10V468.90" stroke="#00BFC4" stroke-width="0.8"/>
<path d="M210.60 467.50H213.40M212.00 466.10V468.90" stroke="#00BFC4" stroke-width="0.8"/>
<path d="M214.10 467.50H216.90M215.50 466.10V468.90" stroke="#00BFC4" stroke-width="0.8"/>
<path d="M217.60 467.50H220.40M219.00 466.10V468.90" stroke="#00BFC4" stroke-width="0.8"/>
<path d="M221.60 467.50H224.40M223.00 466.10V468.90" stroke="#00BFC4" stroke-width="0.8"/>
<rect x="51.9" y="442.2" width="62.60" height="23.70" fill="#fff" stroke="#333" stroke-width="0.9"/>
<text x="59.10" y="451.90" font-size="6.9" fill="#333" stroke="#333" stroke-width="0.12" textLength="47.30" lengthAdjust="spacingAndGlyphs">RSK4 Isoform 2</text>
<path d="M56.30 459.80H59.50M57.90 458.20V461.40" stroke="#00BFC4" stroke-width="0.8"/>
<text x="62.90" y="462.40" font-size="6.9" fill="#222" stroke="#222" stroke-width="0.12" textLength="11.20" lengthAdjust="spacingAndGlyphs">Low</text>
<path d="M89.10 459.80H92.30M90.70 458.20V461.40" stroke="#F8766D" stroke-width="0.8"/>
<text x="96.70" y="462.50" font-size="6.9" fill="#222" stroke="#222" stroke-width="0.08" textLength="12.60" lengthAdjust="spacingAndGlyphs">High</text>
<text x="57.90" y="482.40" font-size="8.0" fill="#333" stroke="#333" stroke-width="0.3" textLength="45.50" lengthAdjust="spacingAndGlyphs">HR=0.93, 95%</text>
<text x="57.90" y="492.20" font-size="8.0" fill="#333" stroke="#333" stroke-width="0.3" textLength="44.30" lengthAdjust="spacingAndGlyphs">CI = 0.90-0.97</text>
<text x="57.90" y="502.00" font-size="8.0" fill="#333" stroke="#333" stroke-width="0.3" textLength="43.40" lengthAdjust="spacingAndGlyphs">p-adj &lt; 0. 001</text>
<text x="198.10" y="426.10" font-size="8.0" fill="#333" stroke="#333" stroke-width="0.3" textLength="19.40" lengthAdjust="spacingAndGlyphs">n=261</text>
<text x="176.90" y="475.00" font-size="8.0" fill="#333" stroke="#333" stroke-width="0.3" textLength="19.80" lengthAdjust="spacingAndGlyphs">n=270</text>
<line x1="245.5" y1="372.9" x2="245.5" y2="516.0" stroke="#4a4a4a" stroke-width="1.0"/>
<line x1="245.0" y1="515.5" x2="455.7" y2="515.5" stroke="#4a4a4a" stroke-width="1.0"/>
<line x1="243.1" y1="379.6" x2="245.5" y2="379.6" stroke="#4a4a4a" stroke-width="0.9"/>
<line x1="243.1" y1="412.0" x2="245.5" y2="412.0" stroke="#4a4a4a" stroke-width="0.9"/>
<line x1="243.1" y1="444.4" x2="245.5" y2="444.4" stroke="#4a4a4a" stroke-width="0.9"/>
<line x1="243.1" y1="476.8" x2="245.5" y2="476.8" stroke="#4a4a4a" stroke-width="0.9"/>
<line x1="243.1" y1="509.2" x2="245.5" y2="509.2" stroke="#4a4a4a" stroke-width="0.9"/>
<line x1="254.5" y1="515.5" x2="254.5" y2="517.7" stroke="#4a4a4a" stroke-width="0.9"/>
<text x="252.53" y="526.10" font-size="7.7" fill="#333" stroke="#333" stroke-width="0.15" textLength="3.95" lengthAdjust="spacingAndGlyphs">0</text>
<line x1="318.5" y1="515.5" x2="318.5" y2="517.7" stroke="#4a4a4a" stroke-width="0.9"/>
<text x="311.20" y="526.10" font-size="7.7" fill="#333" stroke="#333" stroke-width="0.15" textLength="15.80" lengthAdjust="spacingAndGlyphs">2000</text>
<line x1="382.5" y1="515.5" x2="382.5" y2="517.7" stroke="#4a4a4a" stroke-width="0.9"/>
<text x="375.20" y="526.10" font-size="7.7" fill="#333" stroke="#333" stroke-width="0.15" textLength="15.80" lengthAdjust="spacingAndGlyphs">4000</text>
<line x1="446.5" y1="515.5" x2="446.5" y2="517.7" stroke="#4a4a4a" stroke-width="0.9"/>
<text x="439.20" y="526.10" font-size="7.7" fill="#333" stroke="#333" stroke-width="0.15" textLength="15.80" lengthAdjust="spacingAndGlyphs">6000</text>
<text x="279.40" y="382.80" font-size="8.4" font-weight="bold" fill="#1a1a1a" textLength="153.60" lengthAdjust="spacingAndGlyphs">Cervical &amp; Endocervical Cancer (CESC)</text>
<polyline points="254.00,380.90 258.00,382.50 262.00,385.10 267.10,389.60 273.60,392.80 280.00,395.40 282.60,398.60 285.20,403.70 290.30,408.90 295.50,412.10 299.00,414.30 301.00,415.20" fill="none" stroke="#00BFC4" stroke-width="2.0" stroke-linejoin="round"/>
<path d="M252.30 380.90H255.70M254.00 379.20V382.60" stroke="#00BFC4" stroke-width="0.9"/>
<path d="M253.97 381.57H257.37M255.67 379.87V383.27" stroke="#00BFC4" stroke-width="0.9"/>
<path d="M255.64 382.24H259.04M257.34 380.54V383.94" stroke="#00BFC4" stroke-width="0.9"/>
<path d="M257.22 383.10H260.62M258.92 381.40V384.80" stroke="#00BFC4" stroke-width="0.9"/>
<path d="M258.72 384.08H262.12M260.42 382.38V385.78" stroke="#00BFC4" stroke-width="0.9"/>
<path d="M260.23 385.06H263.63M261.93 383.36V386.76" stroke="#00BFC4" stroke-width="0.9"/>
<path d="M261.59 386.24H264.99M263.29 384.54V387.94" stroke="#00BFC4" stroke-width="0.9"/>
<path d="M262.94 387.43H266.34M264.64 385.73V389.13" stroke="#00BFC4" stroke-width="0.9"/>
<path d="M264.29 388.62H267.69M265.99 386.92V390.32" stroke="#00BFC4" stroke-width="0.9"/>
<path d="M265.69 389.74H269.09M267.39 388.04V391.44" stroke="#00BFC4" stroke-width="0.9"/>
<path d="M267.30 390.54H270.70M269.00 388.84V392.24" stroke="#00BFC4" stroke-width="0.9"/>
<path d="M268.92 391.33H272.32M270.62 389.63V393.03" stroke="#00BFC4" stroke-width="0.9"/>
<path d="M270.53 392.13H273.93M272.23 390.43V393.83" stroke="#00BFC4" stroke-width="0.9"/>
<path d="M272.15 392.90H275.55M273.85 391.20V394.60" stroke="#00BFC4" stroke-width="0.9"/>
<path d="M273.82 393.58H277.22M275.52 391.88V395.28" stroke="#00BFC4" stroke-width="0.9"/>
<path d="M275.49 394.26H278.89M277.19 392.56V395.96" stroke="#00BFC4" stroke-width="0.9"/>
<path d="M277.16 394.94H280.56M278.86 393.24V396.64" stroke="#00BFC4" stroke-width="0.9"/>
<path d="M278.66 395.84H282.06M280.36 394.14V397.54" stroke="#00BFC4" stroke-width="0.9"/>
<path d="M279.79 397.24H283.19M281.49 395.54V398.94" stroke="#00BFC4" stroke-width="0.9"/>
<path d="M280.92 398.64H284.32M282.62 396.94V400.34" stroke="#00BFC4" stroke-width="0.9"/>
<path d="M281.74 400.24H285.14M283.44 398.54V401.94" stroke="#00BFC4" stroke-width="0.9"/>
<path d="M282.55 401.85H285.95M284.25 400.15V403.55" stroke="#00BFC4" stroke-width="0.9"/>
<path d="M283.37 403.45H286.77M285.07 401.75V405.15" stroke="#00BFC4" stroke-width="0.9"/>
<path d="M284.56 404.78H287.96M286.26 403.08V406.48" stroke="#00BFC4" stroke-width="0.9"/>
<path d="M285.82 406.07H289.22M287.52 404.37V407.77" stroke="#00BFC4" stroke-width="0.9"/>
<path d="M287.08 407.35H290.48M288.78 405.65V409.05" stroke="#00BFC4" stroke-width="0.9"/>
<path d="M288.34 408.64H291.74M290.04 406.94V410.34" stroke="#00BFC4" stroke-width="0.9"/>
<path d="M289.82 409.65H293.22M291.52 407.95V411.35" stroke="#00BFC4" stroke-width="0.9"/>
<path d="M291.36 410.60H294.76M293.06 408.90V412.30" stroke="#00BFC4" stroke-width="0.9"/>
<path d="M292.89 411.54H296.29M294.59 409.84V413.24" stroke="#00BFC4" stroke-width="0.9"/>
<path d="M294.42 412.49H297.82M296.12 410.79V414.19" stroke="#00BFC4" stroke-width="0.9"/>
<path d="M295.94 413.45H299.34M297.64 411.75V415.15" stroke="#00BFC4" stroke-width="0.9"/>
<path d="M297.48 414.38H300.88M299.18 412.68V416.08" stroke="#00BFC4" stroke-width="0.9"/>
<path d="M299.12 415.12H302.52M300.82 413.42V416.82" stroke="#00BFC4" stroke-width="0.9"/>
<polyline points="301.00,415.20 318.50,415.20 318.80,418.80 320.80,422.30" fill="none" stroke="#00BFC4" stroke-width="1.6" stroke-linejoin="round"/>
<polyline points="320.80,422.30 345.50,422.30 345.80,429.50 348.00,430.50 350.80,432.30 353.00,435.90 385.40,435.90 385.40,442.70 459.00,442.70" fill="none" stroke="#00BFC4" stroke-width="1.1" stroke-linejoin="round"/>
<polyline points="252.70,380.30 253.90,380.60 256.00,382.00 259.20,384.50 261.10,391.10 263.70,397.60 267.00,404.20 269.60,410.70 271.60,417.30 272.90,423.80 274.90,430.40 276.20,436.90 278.80,440.20 281.40,442.50" fill="none" stroke="#F8766D" stroke-width="1.2" stroke-linejoin="round"/>
<polyline points="281.40,442.50 291.60,442.50 291.60,448.90 299.30,448.90 299.30,455.80 334.40,455.80 334.40,509.80" fill="none" stroke="#F8766D" stroke-width="1.0" stroke-linejoin="round"/>
<path d="M254.20 382.00H257.80M256.00 380.20V383.80" stroke="#F8766D" stroke-width="0.9"/>
<path d="M256.56 383.85H260.16M258.36 382.05V385.65" stroke="#F8766D" stroke-width="0.9"/>
<path d="M257.94 386.36H261.54M259.74 384.56V388.16" stroke="#F8766D" stroke-width="0.9"/>
<path d="M258.77 389.25H262.37M260.57 387.45V391.05" stroke="#F8766D" stroke-width="0.9"/>
<path d="M259.70 392.09H263.30M261.50 390.29V393.89" stroke="#F8766D" stroke-width="0.9"/>
<path d="M260.81 394.88H264.41M262.61 393.08V396.68" stroke="#F8766D" stroke-width="0.9"/>
<path d="M261.93 397.66H265.53M263.73 395.86V399.46" stroke="#F8766D" stroke-width="0.9"/>
<path d="M263.27 400.35H266.87M265.07 398.55V402.15" stroke="#F8766D" stroke-width="0.9"/>
<path d="M264.61 403.03H268.21M266.41 401.23V404.83" stroke="#F8766D" stroke-width="0.9"/>
<path d="M265.83 405.77H269.43M267.63 403.97V407.57" stroke="#F8766D" stroke-width="0.9"/>
<path d="M266.94 408.56H270.54M268.74 406.76V410.36" stroke="#F8766D" stroke-width="0.9"/>
<path d="M268.00 411.36H271.60M269.80 409.56V413.16" stroke="#F8766D" stroke-width="0.9"/>
<path d="M268.87 414.23H272.47M270.67 412.43V416.03" stroke="#F8766D" stroke-width="0.9"/>
<path d="M269.74 417.10H273.34M271.54 415.30V418.90" stroke="#F8766D" stroke-width="0.9"/>
<path d="M270.35 420.04H273.95M272.15 418.24V421.84" stroke="#F8766D" stroke-width="0.9"/>
<path d="M270.94 422.98H274.54M272.74 421.18V424.78" stroke="#F8766D" stroke-width="0.9"/>
<path d="M271.73 425.87H275.33M273.53 424.07V427.67" stroke="#F8766D" stroke-width="0.9"/>
<path d="M272.60 428.74H276.20M274.40 426.94V430.54" stroke="#F8766D" stroke-width="0.9"/>
<path d="M273.35 431.64H276.95M275.15 429.84V433.44" stroke="#F8766D" stroke-width="0.9"/>
<path d="M273.94 434.59H277.54M275.74 432.79V436.39" stroke="#F8766D" stroke-width="0.9"/>
<path d="M274.80 437.40H278.40M276.60 435.60V439.20" stroke="#F8766D" stroke-width="0.9"/>
<path d="M276.65 439.76H280.25M278.45 437.96V441.56" stroke="#F8766D" stroke-width="0.9"/>
<path d="M278.83 441.82H282.43M280.63 440.02V443.62" stroke="#F8766D" stroke-width="0.9"/>
<path d="M301.20 415.20H304.80M303.00 413.40V417.00" stroke="#00BFC4" stroke-width="0.9"/>
<path d="M303.20 415.20H306.80M305.00 413.40V417.00" stroke="#00BFC4" stroke-width="0.9"/>
<path d="M305.20 415.20H308.80M307.00 413.40V417.00" stroke="#00BFC4" stroke-width="0.9"/>
<path d="M307.20 415.20H310.80M309.00 413.40V417.00" stroke="#00BFC4" stroke-width="0.9"/>
<path d="M309.20 415.20H312.80M311.00 413.40V417.00" stroke="#00BFC4" stroke-width="0.9"/>
<path d="M311.20 415.20H314.80M313.00 413.40V417.00" stroke="#00BFC4" stroke-width="0.9"/>
<path d="M313.20 415.20H316.80M315.00 413.40V417.00" stroke="#00BFC4" stroke-width="0.9"/>
<path d="M315.20 415.20H318.80M317.00 413.40V417.00" stroke="#00BFC4" stroke-width="0.9"/>
<path d="M322.00 422.30H325.60M323.80 420.50V424.10" stroke="#00BFC4" stroke-width="0.9"/>
<path d="M325.00 422.30H328.60M326.80 420.50V424.10" stroke="#00BFC4" stroke-width="0.9"/>
<path d="M330.20 422.30H333.80M332.00 420.50V424.10" stroke="#00BFC4" stroke-width="0.9"/>
<path d="M332.50 422.30H336.10M334.30 420.50V424.10" stroke="#00BFC4" stroke-width="0.9"/>
<path d="M337.00 422.30H340.60M338.80 420.50V424.10" stroke="#00BFC4" stroke-width="0.9"/>
<path d="M344.50 430.50H348.10M346.30 428.70V432.30" stroke="#00BFC4" stroke-width="0.9"/>
<path d="M346.80 430.50H350.40M348.60 428.70V432.30" stroke="#00BFC4" stroke-width="0.9"/>
<path d="M361.40 435.90H365.00M363.20 434.10V437.70" stroke="#00BFC4" stroke-width="0.9"/>
<path d="M366.20 435.90H369.80M368.00 434.10V437.70" stroke="#00BFC4" stroke-width="0.9"/>
<path d="M374.50 435.90H378.10M376.30 434.10V437.70" stroke="#00BFC4" stroke-width="0.9"/>
<path d="M376.00 435.90H379.60M377.80 434.10V437.70" stroke="#00BFC4" stroke-width="0.9"/>
<path d="M378.20 435.90H381.80M380.00 434.10V437.70" stroke="#00BFC4" stroke-width="0.9"/>
<path d="M379.70 435.90H383.30M381.50 434.10V437.70" stroke="#00BFC4" stroke-width="0.9"/>
<path d="M385.00 442.70H388.60M386.80 440.90V444.50" stroke="#00BFC4" stroke-width="0.9"/>
<path d="M391.80 442.70H395.40M393.60 440.90V444.50" stroke="#00BFC4" stroke-width="0.9"/>
<path d="M394.00 442.70H397.60M395.80 440.90V444.50" stroke="#00BFC4" stroke-width="0.9"/>
<path d="M400.80 442.70H404.40M402.60 440.90V444.50" stroke="#00BFC4" stroke-width="0.9"/>
<path d="M403.00 442.70H406.60M404.80 440.90V444.50" stroke="#00BFC4" stroke-width="0.9"/>
<path d="M404.50 442.70H408.10M406.30 440.90V444.50" stroke="#00BFC4" stroke-width="0.9"/>
<path d="M407.50 442.70H411.10M409.30 440.90V444.50" stroke="#00BFC4" stroke-width="0.9"/>
<path d="M419.70 442.70H423.30M421.50 440.90V444.50" stroke="#00BFC4" stroke-width="0.9"/>
<path d="M423.60 442.70H427.20M425.40 440.90V444.50" stroke="#00BFC4" stroke-width="0.9"/>
<path d="M456.20 442.70H459.80M458.00 440.90V444.50" stroke="#00BFC4" stroke-width="0.9"/>
<path d="M281.60 442.50H285.20M283.40 440.70V444.30" stroke="#F8766D" stroke-width="0.9"/>
<path d="M283.50 442.50H287.10M285.30 440.70V444.30" stroke="#F8766D" stroke-width="0.9"/>
<path d="M285.50 442.50H289.10M287.30 440.70V444.30" stroke="#F8766D" stroke-width="0.9"/>
<path d="M291.70 448.90H295.30M293.50 447.10V450.70" stroke="#F8766D" stroke-width="0.9"/>
<path d="M295.00 448.90H298.60M296.80 447.10V450.70" stroke="#F8766D" stroke-width="0.9"/>
<path d="M299.20 455.80H302.80M301.00 454.00V457.60" stroke="#F8766D" stroke-width="0.9"/>
<path d="M302.20 455.80H305.80M304.00 454.00V457.60" stroke="#F8766D" stroke-width="0.9"/>
<path d="M306.20 455.80H309.80M308.00 454.00V457.60" stroke="#F8766D" stroke-width="0.9"/>
<path d="M308.70 455.80H312.30M310.50 454.00V457.60" stroke="#F8766D" stroke-width="0.9"/>
<rect x="371.2" y="472.2" width="63.00" height="23.40" fill="#fff" stroke="#333" stroke-width="0.9"/>
<text x="378.40" y="481.90" font-size="6.9" fill="#333" stroke="#333" stroke-width="0.12" textLength="47.30" lengthAdjust="spacingAndGlyphs">RSK4 Isoform 2</text>
<path d="M375.60 489.80H378.80M377.20 488.20V491.40" stroke="#00BFC4" stroke-width="0.8"/>
<text x="382.20" y="492.40" font-size="6.9" fill="#222" stroke="#222" stroke-width="0.12" textLength="11.20" lengthAdjust="spacingAndGlyphs">Low</text>
<path d="M408.40 489.80H411.60M410.00 488.20V491.40" stroke="#F8766D" stroke-width="0.8"/>
<text x="416.00" y="492.50" font-size="6.9" fill="#222" stroke="#222" stroke-width="0.08" textLength="12.60" lengthAdjust="spacingAndGlyphs">High</text>
<text x="267.70" y="483.20" font-size="8.0" fill="#333" stroke="#333" stroke-width="0.3" textLength="45.50" lengthAdjust="spacingAndGlyphs">HR=1.23, 95%</text>
<text x="267.70" y="493.00" font-size="8.0" fill="#333" stroke="#333" stroke-width="0.3" textLength="44.10" lengthAdjust="spacingAndGlyphs">CI = 1.14-1.33</text>
<text x="267.70" y="502.80" font-size="8.0" fill="#333" stroke="#333" stroke-width="0.3" textLength="43.80" lengthAdjust="spacingAndGlyphs">p-adj &lt; 0. 001</text>
<text x="314.80" y="443.30" font-size="8.0" fill="#333" stroke="#333" stroke-width="0.3" textLength="15.10" lengthAdjust="spacingAndGlyphs">n=75</text>
<text x="400.70" y="430.00" font-size="8.0" fill="#333" stroke="#333" stroke-width="0.3" textLength="19.90" lengthAdjust="spacingAndGlyphs">n=231</text>
<text x="201.60" y="542.90" font-size="8.2" fill="#333" stroke="#333" stroke-width="0.15" textLength="53.70" lengthAdjust="spacingAndGlyphs">OS time (days)</text>
</svg>
</body></html>
